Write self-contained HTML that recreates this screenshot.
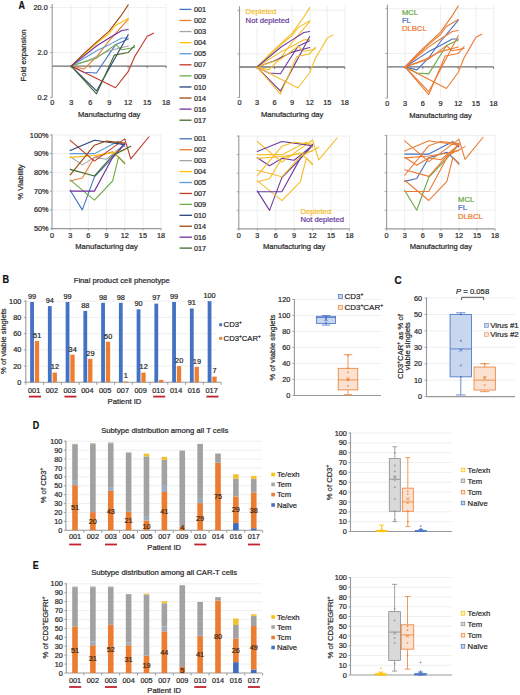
<!DOCTYPE html>
<html><head><meta charset="utf-8"><style>
html,body{margin:0;padding:0;background:#fff;}
svg{display:block;font-family:"Liberation Sans",sans-serif;}
text{stroke:currentColor;stroke-width:0.22px;}
</style></head><body>
<svg width="520" height="695" viewBox="0 0 520 695">
<rect x="0" y="0" width="520" height="695" fill="#ffffff"/>
<text transform="translate(18.4 9.04) scale(0.86 1)" font-size="10.4" text-anchor="start" fill="#111" color="#111" font-weight="bold">A</text>
<line x1="71.19" y1="4" x2="71.19" y2="97.5" stroke="#ebebeb" stroke-width="0.8"/>
<line x1="90.18" y1="4" x2="90.18" y2="97.5" stroke="#ebebeb" stroke-width="0.8"/>
<line x1="109.17" y1="4" x2="109.17" y2="97.5" stroke="#ebebeb" stroke-width="0.8"/>
<line x1="128.16" y1="4" x2="128.16" y2="97.5" stroke="#ebebeb" stroke-width="0.8"/>
<line x1="147.15" y1="4" x2="147.15" y2="97.5" stroke="#ebebeb" stroke-width="0.8"/>
<line x1="166.14" y1="4" x2="166.14" y2="97.5" stroke="#ebebeb" stroke-width="0.8"/>
<line x1="52.2" y1="7.6" x2="166.14" y2="7.6" stroke="#ebebeb" stroke-width="0.8"/>
<line x1="52.2" y1="52.55" x2="166.14" y2="52.55" stroke="#ebebeb" stroke-width="0.8"/>
<line x1="52.2" y1="4" x2="52.2" y2="97.5" stroke="#999999" stroke-width="1.1"/>
<line x1="50.2" y1="7.6" x2="52.2" y2="7.6" stroke="#999999" stroke-width="0.9"/>
<line x1="50.2" y1="52.55" x2="52.2" y2="52.55" stroke="#999999" stroke-width="0.9"/>
<line x1="50.2" y1="97.5" x2="52.2" y2="97.5" stroke="#999999" stroke-width="0.9"/>
<line x1="52.2" y1="66.08" x2="166.14" y2="66.08" stroke="#707070" stroke-width="1.3"/>
<line x1="71.19" y1="66.08" x2="71.19" y2="68.08" stroke="#707070" stroke-width="0.9"/>
<line x1="90.18" y1="66.08" x2="90.18" y2="68.08" stroke="#707070" stroke-width="0.9"/>
<line x1="109.17" y1="66.08" x2="109.17" y2="68.08" stroke="#707070" stroke-width="0.9"/>
<line x1="128.16" y1="66.08" x2="128.16" y2="68.08" stroke="#707070" stroke-width="0.9"/>
<line x1="147.15" y1="66.08" x2="147.15" y2="68.08" stroke="#707070" stroke-width="0.9"/>
<line x1="166.14" y1="66.08" x2="166.14" y2="68.08" stroke="#707070" stroke-width="0.9"/>
<polyline points="71.19,66.08 83.85,72.22 96.51,73.04 115.5,44.63 128.16,39.02" fill="none" stroke="#4472C4" stroke-width="1.1" stroke-linejoin="round" stroke-linecap="round"/>
<polyline points="71.19,66.08 83.85,69.03 96.51,56.91 109.17,40.54 128.16,19.27" fill="none" stroke="#ED7D31" stroke-width="1.1" stroke-linejoin="round" stroke-linecap="round"/>
<polyline points="71.19,66.08 90.18,59.51 109.17,50.69 128.16,45.98" fill="none" stroke="#A5A5A5" stroke-width="1.1" stroke-linejoin="round" stroke-linecap="round"/>
<polyline points="71.19,66.08 83.85,54.61 96.51,43.37 109.17,33.53 115.5,25.49 128.16,18.4" fill="none" stroke="#FFC000" stroke-width="1.1" stroke-linejoin="round" stroke-linecap="round"/>
<polyline points="71.19,66.08 96.51,50.69 109.17,44.63 121.83,38.07 128.16,38.07" fill="none" stroke="#5B9BD5" stroke-width="1.1" stroke-linejoin="round" stroke-linecap="round"/>
<polyline points="71.19,66.08 115.5,87.72 128.16,71.7 134.49,56.91 140.82,46.69 147.15,36.29 153.48,33.16" fill="none" stroke="#C0392B" stroke-width="1.1" stroke-linejoin="round" stroke-linecap="round"/>
<polyline points="71.19,66.08 96.51,58.17 115.5,44.63 121.83,49.82 134.49,47.43" fill="none" stroke="#70AD47" stroke-width="1.1" stroke-linejoin="round" stroke-linecap="round"/>
<polyline points="71.19,66.08 96.51,90.93 128.16,34.66" fill="none" stroke="#264478" stroke-width="1.1" stroke-linejoin="round" stroke-linecap="round"/>
<polyline points="71.19,66.08 83.85,53.55 96.51,42.19 109.17,31.1 121.83,14.56 128.16,4.87" fill="none" stroke="#9E480E" stroke-width="1.1" stroke-linejoin="round" stroke-linecap="round"/>
<polyline points="71.19,66.08 96.51,45.98 109.17,38.07 121.83,30.46 128.16,29.54" fill="none" stroke="#7030A0" stroke-width="1.1" stroke-linejoin="round" stroke-linecap="round"/>
<polyline points="71.19,66.08 96.51,93.94 114.23,55.16 128.16,52.55 134.49,45.64" fill="none" stroke="#43682B" stroke-width="1.1" stroke-linejoin="round" stroke-linecap="round"/>
<text x="47.7" y="10.23" font-size="7.3" text-anchor="end" fill="#2a2a2a" color="#2a2a2a">20.0</text>
<text x="47.7" y="55.18" font-size="7.3" text-anchor="end" fill="#2a2a2a" color="#2a2a2a">2.0</text>
<text x="47.7" y="100.13" font-size="7.3" text-anchor="end" fill="#2a2a2a" color="#2a2a2a">0.2</text>
<text x="52.2" y="105.43" font-size="7.3" text-anchor="middle" fill="#2a2a2a" color="#2a2a2a">0</text>
<text x="71.19" y="105.43" font-size="7.3" text-anchor="middle" fill="#2a2a2a" color="#2a2a2a">3</text>
<text x="90.18" y="105.43" font-size="7.3" text-anchor="middle" fill="#2a2a2a" color="#2a2a2a">6</text>
<text x="109.17" y="105.43" font-size="7.3" text-anchor="middle" fill="#2a2a2a" color="#2a2a2a">9</text>
<text x="128.16" y="105.43" font-size="7.3" text-anchor="middle" fill="#2a2a2a" color="#2a2a2a">12</text>
<text x="147.15" y="105.43" font-size="7.3" text-anchor="middle" fill="#2a2a2a" color="#2a2a2a">15</text>
<text x="166.14" y="105.43" font-size="7.3" text-anchor="middle" fill="#2a2a2a" color="#2a2a2a">18</text>
<text x="109.17" y="116.84" font-size="7.6" text-anchor="middle" fill="#2a2a2a" color="#2a2a2a">Manufacturing day</text>
<text x="23" y="58.27" font-size="7.7" text-anchor="middle" fill="#2a2a2a" color="#2a2a2a" transform="rotate(-90 23 55.5)">Fold expansion</text>
<line x1="179.5" y1="9.4" x2="191.5" y2="9.4" stroke="#4472C4" stroke-width="1.3"/>
<text x="194" y="12.03" font-size="7.3" text-anchor="start" fill="#2a2a2a" color="#2a2a2a">001</text>
<line x1="179.5" y1="20.48" x2="191.5" y2="20.48" stroke="#ED7D31" stroke-width="1.3"/>
<text x="194" y="23.11" font-size="7.3" text-anchor="start" fill="#2a2a2a" color="#2a2a2a">002</text>
<line x1="179.5" y1="31.56" x2="191.5" y2="31.56" stroke="#A5A5A5" stroke-width="1.3"/>
<text x="194" y="34.19" font-size="7.3" text-anchor="start" fill="#2a2a2a" color="#2a2a2a">003</text>
<line x1="179.5" y1="42.64" x2="191.5" y2="42.64" stroke="#FFC000" stroke-width="1.3"/>
<text x="194" y="45.27" font-size="7.3" text-anchor="start" fill="#2a2a2a" color="#2a2a2a">004</text>
<line x1="179.5" y1="53.72" x2="191.5" y2="53.72" stroke="#5B9BD5" stroke-width="1.3"/>
<text x="194" y="56.35" font-size="7.3" text-anchor="start" fill="#2a2a2a" color="#2a2a2a">005</text>
<line x1="179.5" y1="64.8" x2="191.5" y2="64.8" stroke="#C0392B" stroke-width="1.3"/>
<text x="194" y="67.43" font-size="7.3" text-anchor="start" fill="#2a2a2a" color="#2a2a2a">007</text>
<line x1="179.5" y1="75.88" x2="191.5" y2="75.88" stroke="#70AD47" stroke-width="1.3"/>
<text x="194" y="78.51" font-size="7.3" text-anchor="start" fill="#2a2a2a" color="#2a2a2a">009</text>
<line x1="179.5" y1="86.96" x2="191.5" y2="86.96" stroke="#264478" stroke-width="1.3"/>
<text x="194" y="89.59" font-size="7.3" text-anchor="start" fill="#2a2a2a" color="#2a2a2a">010</text>
<line x1="179.5" y1="98.04" x2="191.5" y2="98.04" stroke="#9E480E" stroke-width="1.3"/>
<text x="194" y="100.67" font-size="7.3" text-anchor="start" fill="#2a2a2a" color="#2a2a2a">014</text>
<line x1="179.5" y1="109.12" x2="191.5" y2="109.12" stroke="#7030A0" stroke-width="1.3"/>
<text x="194" y="111.75" font-size="7.3" text-anchor="start" fill="#2a2a2a" color="#2a2a2a">016</text>
<line x1="179.5" y1="120.2" x2="191.5" y2="120.2" stroke="#43682B" stroke-width="1.3"/>
<text x="194" y="122.83" font-size="7.3" text-anchor="start" fill="#2a2a2a" color="#2a2a2a">017</text>
<line x1="257.05" y1="27" x2="257.05" y2="97.5" stroke="#ebebeb" stroke-width="0.8"/>
<line x1="274.6" y1="27" x2="274.6" y2="97.5" stroke="#ebebeb" stroke-width="0.8"/>
<line x1="292.15" y1="6.3" x2="292.15" y2="97.5" stroke="#ebebeb" stroke-width="0.8"/>
<line x1="309.7" y1="6.3" x2="309.7" y2="97.5" stroke="#ebebeb" stroke-width="0.8"/>
<line x1="327.25" y1="6.3" x2="327.25" y2="97.5" stroke="#ebebeb" stroke-width="0.8"/>
<line x1="344.8" y1="6.3" x2="344.8" y2="97.5" stroke="#ebebeb" stroke-width="0.8"/>
<line x1="239.5" y1="10.3" x2="344.8" y2="10.3" stroke="#ebebeb" stroke-width="0.8"/>
<line x1="239.5" y1="53.9" x2="344.8" y2="53.9" stroke="#ebebeb" stroke-width="0.8"/>
<line x1="239.5" y1="6.3" x2="239.5" y2="97.5" stroke="#999999" stroke-width="1.1"/>
<line x1="237.5" y1="10.3" x2="239.5" y2="10.3" stroke="#999999" stroke-width="0.9"/>
<line x1="237.5" y1="53.9" x2="239.5" y2="53.9" stroke="#999999" stroke-width="0.9"/>
<line x1="237.5" y1="97.5" x2="239.5" y2="97.5" stroke="#999999" stroke-width="0.9"/>
<line x1="239.5" y1="67.02" x2="344.8" y2="67.02" stroke="#707070" stroke-width="1.3"/>
<line x1="257.05" y1="67.02" x2="257.05" y2="69.02" stroke="#707070" stroke-width="0.9"/>
<line x1="274.6" y1="67.02" x2="274.6" y2="69.02" stroke="#707070" stroke-width="0.9"/>
<line x1="292.15" y1="67.02" x2="292.15" y2="69.02" stroke="#707070" stroke-width="0.9"/>
<line x1="309.7" y1="67.02" x2="309.7" y2="69.02" stroke="#707070" stroke-width="0.9"/>
<line x1="327.25" y1="67.02" x2="327.25" y2="69.02" stroke="#707070" stroke-width="0.9"/>
<line x1="344.8" y1="67.02" x2="344.8" y2="69.02" stroke="#707070" stroke-width="0.9"/>
<polyline points="257.05,67.02 268.75,72.98 280.45,73.78 298,46.22 309.7,40.78" fill="none" stroke="#6A3CA0" stroke-width="1.1" stroke-linejoin="round" stroke-linecap="round"/>
<polyline points="257.05,67.02 268.75,69.88 280.45,58.13 292.15,42.25 309.7,21.62" fill="none" stroke="#F5BE2A" stroke-width="1.1" stroke-linejoin="round" stroke-linecap="round"/>
<polyline points="257.05,67.02 274.6,60.65 292.15,52.1 309.7,47.53" fill="none" stroke="#6A3CA0" stroke-width="1.1" stroke-linejoin="round" stroke-linecap="round"/>
<polyline points="257.05,67.02 268.75,55.9 280.45,45 292.15,35.45 298,27.65 309.7,20.78" fill="none" stroke="#F5BE2A" stroke-width="1.1" stroke-linejoin="round" stroke-linecap="round"/>
<polyline points="257.05,67.02 280.45,52.1 292.15,46.22 303.85,39.85 309.7,39.85" fill="none" stroke="#F5BE2A" stroke-width="1.1" stroke-linejoin="round" stroke-linecap="round"/>
<polyline points="257.05,67.02 298,88.02 309.7,72.47 315.55,58.13 321.4,48.22 327.25,38.13 333.1,35.09" fill="none" stroke="#F5BE2A" stroke-width="1.1" stroke-linejoin="round" stroke-linecap="round"/>
<polyline points="257.05,67.02 280.45,59.35 298,46.22 303.85,51.25 315.55,48.93" fill="none" stroke="#F5BE2A" stroke-width="1.1" stroke-linejoin="round" stroke-linecap="round"/>
<polyline points="257.05,67.02 280.45,91.13 309.7,36.55" fill="none" stroke="#6A3CA0" stroke-width="1.1" stroke-linejoin="round" stroke-linecap="round"/>
<polyline points="257.05,67.02 268.75,54.87 280.45,43.85 292.15,33.1 303.85,17.05 309.7,7.65" fill="none" stroke="#F5BE2A" stroke-width="1.1" stroke-linejoin="round" stroke-linecap="round"/>
<polyline points="257.05,67.02 280.45,47.53 292.15,39.85 303.85,32.48 309.7,31.58" fill="none" stroke="#6A3CA0" stroke-width="1.1" stroke-linejoin="round" stroke-linecap="round"/>
<polyline points="257.05,67.02 280.45,94.05 296.83,56.43 309.7,53.9 315.55,47.19" fill="none" stroke="#F5BE2A" stroke-width="1.1" stroke-linejoin="round" stroke-linecap="round"/>
<text x="239.5" y="105.43" font-size="7.3" text-anchor="middle" fill="#2a2a2a" color="#2a2a2a">0</text>
<text x="257.05" y="105.43" font-size="7.3" text-anchor="middle" fill="#2a2a2a" color="#2a2a2a">3</text>
<text x="274.6" y="105.43" font-size="7.3" text-anchor="middle" fill="#2a2a2a" color="#2a2a2a">6</text>
<text x="292.15" y="105.43" font-size="7.3" text-anchor="middle" fill="#2a2a2a" color="#2a2a2a">9</text>
<text x="309.7" y="105.43" font-size="7.3" text-anchor="middle" fill="#2a2a2a" color="#2a2a2a">12</text>
<text x="327.25" y="105.43" font-size="7.3" text-anchor="middle" fill="#2a2a2a" color="#2a2a2a">15</text>
<text x="344.8" y="105.43" font-size="7.3" text-anchor="middle" fill="#2a2a2a" color="#2a2a2a">18</text>
<text x="292.15" y="116.84" font-size="7.6" text-anchor="middle" fill="#2a2a2a" color="#2a2a2a">Manufacturing day</text>
<text x="245.6" y="14.17" font-size="7.7" text-anchor="start" fill="#F5BE2A" color="#F5BE2A">Depleted</text>
<text x="245.6" y="22.87" font-size="7.7" text-anchor="start" fill="#6A3CA0" color="#6A3CA0">Not depleted</text>
<line x1="405.1" y1="33" x2="405.1" y2="98.2" stroke="#ebebeb" stroke-width="0.8"/>
<line x1="422.8" y1="33" x2="422.8" y2="98.2" stroke="#ebebeb" stroke-width="0.8"/>
<line x1="440.5" y1="4.8" x2="440.5" y2="98.2" stroke="#ebebeb" stroke-width="0.8"/>
<line x1="458.2" y1="4.8" x2="458.2" y2="98.2" stroke="#ebebeb" stroke-width="0.8"/>
<line x1="475.9" y1="4.8" x2="475.9" y2="98.2" stroke="#ebebeb" stroke-width="0.8"/>
<line x1="493.6" y1="4.8" x2="493.6" y2="98.2" stroke="#ebebeb" stroke-width="0.8"/>
<line x1="387.4" y1="8.7" x2="493.6" y2="8.7" stroke="#ebebeb" stroke-width="0.8"/>
<line x1="387.4" y1="53.45" x2="493.6" y2="53.45" stroke="#ebebeb" stroke-width="0.8"/>
<line x1="387.4" y1="4.8" x2="387.4" y2="98.2" stroke="#999999" stroke-width="1.1"/>
<line x1="385.4" y1="8.7" x2="387.4" y2="8.7" stroke="#999999" stroke-width="0.9"/>
<line x1="385.4" y1="53.45" x2="387.4" y2="53.45" stroke="#999999" stroke-width="0.9"/>
<line x1="385.4" y1="98.2" x2="387.4" y2="98.2" stroke="#999999" stroke-width="0.9"/>
<line x1="387.4" y1="66.92" x2="493.6" y2="66.92" stroke="#707070" stroke-width="1.3"/>
<line x1="405.1" y1="66.92" x2="405.1" y2="68.92" stroke="#707070" stroke-width="0.9"/>
<line x1="422.8" y1="66.92" x2="422.8" y2="68.92" stroke="#707070" stroke-width="0.9"/>
<line x1="440.5" y1="66.92" x2="440.5" y2="68.92" stroke="#707070" stroke-width="0.9"/>
<line x1="458.2" y1="66.92" x2="458.2" y2="68.92" stroke="#707070" stroke-width="0.9"/>
<line x1="475.9" y1="66.92" x2="475.9" y2="68.92" stroke="#707070" stroke-width="0.9"/>
<line x1="493.6" y1="66.92" x2="493.6" y2="68.92" stroke="#707070" stroke-width="0.9"/>
<polyline points="405.1,66.92 416.9,73.04 428.7,73.85 446.4,45.57 458.2,39.98" fill="none" stroke="#6AAA44" stroke-width="1.1" stroke-linejoin="round" stroke-linecap="round"/>
<polyline points="405.1,66.92 416.9,69.85 428.7,57.79 440.5,41.49 458.2,20.32" fill="none" stroke="#4670C0" stroke-width="1.1" stroke-linejoin="round" stroke-linecap="round"/>
<polyline points="405.1,66.92 422.8,60.38 440.5,51.6 458.2,46.91" fill="none" stroke="#EB7B33" stroke-width="1.1" stroke-linejoin="round" stroke-linecap="round"/>
<polyline points="405.1,66.92 416.9,55.5 428.7,44.32 440.5,34.51 446.4,26.51 458.2,19.45" fill="none" stroke="#EB7B33" stroke-width="1.1" stroke-linejoin="round" stroke-linecap="round"/>
<polyline points="405.1,66.92 428.7,51.6 440.5,45.57 452.3,39.03 458.2,39.03" fill="none" stroke="#4670C0" stroke-width="1.1" stroke-linejoin="round" stroke-linecap="round"/>
<polyline points="405.1,66.92 446.4,88.47 458.2,72.51 464.1,57.79 470,47.62 475.9,37.26 481.8,34.15" fill="none" stroke="#EB7B33" stroke-width="1.1" stroke-linejoin="round" stroke-linecap="round"/>
<polyline points="405.1,66.92 428.7,59.04 446.4,45.57 452.3,50.73 464.1,48.35" fill="none" stroke="#EB7B33" stroke-width="1.1" stroke-linejoin="round" stroke-linecap="round"/>
<polyline points="405.1,66.92 428.7,91.66 458.2,35.64" fill="none" stroke="#EB7B33" stroke-width="1.1" stroke-linejoin="round" stroke-linecap="round"/>
<polyline points="405.1,66.92 416.9,54.45 428.7,43.14 440.5,32.1 452.3,15.63 458.2,5.98" fill="none" stroke="#EB7B33" stroke-width="1.1" stroke-linejoin="round" stroke-linecap="round"/>
<polyline points="405.1,66.92 428.7,46.91 440.5,39.03 452.3,31.46 458.2,30.54" fill="none" stroke="#EB7B33" stroke-width="1.1" stroke-linejoin="round" stroke-linecap="round"/>
<polyline points="405.1,66.92 428.7,94.66 445.22,56.05 458.2,53.45 464.1,46.57" fill="none" stroke="#EB7B33" stroke-width="1.1" stroke-linejoin="round" stroke-linecap="round"/>
<text x="387.4" y="106.13" font-size="7.3" text-anchor="middle" fill="#2a2a2a" color="#2a2a2a">0</text>
<text x="405.1" y="106.13" font-size="7.3" text-anchor="middle" fill="#2a2a2a" color="#2a2a2a">3</text>
<text x="422.8" y="106.13" font-size="7.3" text-anchor="middle" fill="#2a2a2a" color="#2a2a2a">6</text>
<text x="440.5" y="106.13" font-size="7.3" text-anchor="middle" fill="#2a2a2a" color="#2a2a2a">9</text>
<text x="458.2" y="106.13" font-size="7.3" text-anchor="middle" fill="#2a2a2a" color="#2a2a2a">12</text>
<text x="475.9" y="106.13" font-size="7.3" text-anchor="middle" fill="#2a2a2a" color="#2a2a2a">15</text>
<text x="493.6" y="106.13" font-size="7.3" text-anchor="middle" fill="#2a2a2a" color="#2a2a2a">18</text>
<text x="440.5" y="117.54" font-size="7.6" text-anchor="middle" fill="#2a2a2a" color="#2a2a2a">Manufacturing day</text>
<text x="401.9" y="14.67" font-size="7.7" text-anchor="start" fill="#6AAA44" color="#6AAA44">MCL</text>
<text x="401.9" y="23.07" font-size="7.7" text-anchor="start" fill="#4670C0" color="#4670C0">FL</text>
<text x="401.9" y="31.37" font-size="7.7" text-anchor="start" fill="#EB7B33" color="#EB7B33">DLBCL</text>
<line x1="70.18" y1="134.9" x2="70.18" y2="228.6" stroke="#ebebeb" stroke-width="0.8"/>
<line x1="88.36" y1="134.9" x2="88.36" y2="228.6" stroke="#ebebeb" stroke-width="0.8"/>
<line x1="106.54" y1="134.9" x2="106.54" y2="228.6" stroke="#ebebeb" stroke-width="0.8"/>
<line x1="124.72" y1="134.9" x2="124.72" y2="228.6" stroke="#ebebeb" stroke-width="0.8"/>
<line x1="142.9" y1="134.9" x2="142.9" y2="228.6" stroke="#ebebeb" stroke-width="0.8"/>
<line x1="161.08" y1="134.9" x2="161.08" y2="228.6" stroke="#ebebeb" stroke-width="0.8"/>
<line x1="52" y1="209.86" x2="161.08" y2="209.86" stroke="#ebebeb" stroke-width="0.8"/>
<line x1="52" y1="191.12" x2="161.08" y2="191.12" stroke="#ebebeb" stroke-width="0.8"/>
<line x1="52" y1="172.38" x2="161.08" y2="172.38" stroke="#ebebeb" stroke-width="0.8"/>
<line x1="52" y1="153.64" x2="161.08" y2="153.64" stroke="#ebebeb" stroke-width="0.8"/>
<line x1="52" y1="134.9" x2="161.08" y2="134.9" stroke="#ebebeb" stroke-width="0.8"/>
<line x1="52" y1="134.4" x2="52" y2="228.6" stroke="#999999" stroke-width="1.1"/>
<line x1="52" y1="228.6" x2="161.08" y2="228.6" stroke="#999999" stroke-width="1.1"/>
<line x1="50" y1="228.6" x2="52" y2="228.6" stroke="#999999" stroke-width="0.9"/>
<line x1="50" y1="209.86" x2="52" y2="209.86" stroke="#999999" stroke-width="0.9"/>
<line x1="50" y1="191.12" x2="52" y2="191.12" stroke="#999999" stroke-width="0.9"/>
<line x1="50" y1="172.38" x2="52" y2="172.38" stroke="#999999" stroke-width="0.9"/>
<line x1="50" y1="153.64" x2="52" y2="153.64" stroke="#999999" stroke-width="0.9"/>
<line x1="50" y1="134.9" x2="52" y2="134.9" stroke="#999999" stroke-width="0.9"/>
<line x1="52" y1="228.6" x2="52" y2="230.4" stroke="#999999" stroke-width="0.9"/>
<line x1="70.18" y1="228.6" x2="70.18" y2="230.4" stroke="#999999" stroke-width="0.9"/>
<line x1="88.36" y1="228.6" x2="88.36" y2="230.4" stroke="#999999" stroke-width="0.9"/>
<line x1="106.54" y1="228.6" x2="106.54" y2="230.4" stroke="#999999" stroke-width="0.9"/>
<line x1="124.72" y1="228.6" x2="124.72" y2="230.4" stroke="#999999" stroke-width="0.9"/>
<line x1="142.9" y1="228.6" x2="142.9" y2="230.4" stroke="#999999" stroke-width="0.9"/>
<line x1="161.08" y1="228.6" x2="161.08" y2="230.4" stroke="#999999" stroke-width="0.9"/>
<polyline points="70.18,190.18 82.3,209.86 94.42,176.88 112.6,157.95 124.72,144.27" fill="none" stroke="#4472C4" stroke-width="1.1" stroke-linejoin="round" stroke-linecap="round"/>
<polyline points="70.18,181 82.3,178 94.42,157.39 112.6,151.77 124.72,163.01" fill="none" stroke="#ED7D31" stroke-width="1.1" stroke-linejoin="round" stroke-linecap="round"/>
<polyline points="70.18,156.83 82.3,164.88 94.42,157.39 106.54,159.26 124.72,144.27" fill="none" stroke="#A5A5A5" stroke-width="1.1" stroke-linejoin="round" stroke-linecap="round"/>
<polyline points="70.18,157.39 94.42,155.51 112.6,152.7 124.72,149.89" fill="none" stroke="#FFC000" stroke-width="1.1" stroke-linejoin="round" stroke-linecap="round"/>
<polyline points="70.18,153.64 94.42,153.64 118.66,141.08 124.72,146.52" fill="none" stroke="#5B9BD5" stroke-width="1.1" stroke-linejoin="round" stroke-linecap="round"/>
<polyline points="70.18,140.33 94.42,161.14 124.72,138.84 130.78,158.89 148.96,136.77" fill="none" stroke="#C0392B" stroke-width="1.1" stroke-linejoin="round" stroke-linecap="round"/>
<polyline points="70.18,179.88 94.42,200.12 112.6,181 118.66,156.83 124.72,163.95" fill="none" stroke="#70AD47" stroke-width="1.1" stroke-linejoin="round" stroke-linecap="round"/>
<polyline points="70.18,150.45 94.42,140.33 106.54,142.02 124.72,144.64" fill="none" stroke="#264478" stroke-width="1.1" stroke-linejoin="round" stroke-linecap="round"/>
<polyline points="70.18,174.82 94.42,145.21 106.54,141.08 124.72,143.15" fill="none" stroke="#9E480E" stroke-width="1.1" stroke-linejoin="round" stroke-linecap="round"/>
<polyline points="70.18,191.12 94.42,191.12 112.6,157.39 124.72,143.33" fill="none" stroke="#7030A0" stroke-width="1.1" stroke-linejoin="round" stroke-linecap="round"/>
<polyline points="70.18,169.38 94.42,175.94 112.6,155.51 130.78,146.14" fill="none" stroke="#43682B" stroke-width="1.1" stroke-linejoin="round" stroke-linecap="round"/>
<text x="48.5" y="231.23" font-size="7.3" text-anchor="end" fill="#2a2a2a" color="#2a2a2a">50%</text>
<text x="48.5" y="212.49" font-size="7.3" text-anchor="end" fill="#2a2a2a" color="#2a2a2a">60%</text>
<text x="48.5" y="193.75" font-size="7.3" text-anchor="end" fill="#2a2a2a" color="#2a2a2a">70%</text>
<text x="48.5" y="175.01" font-size="7.3" text-anchor="end" fill="#2a2a2a" color="#2a2a2a">80%</text>
<text x="48.5" y="156.27" font-size="7.3" text-anchor="end" fill="#2a2a2a" color="#2a2a2a">90%</text>
<text x="48.5" y="137.53" font-size="7.3" text-anchor="end" fill="#2a2a2a" color="#2a2a2a">100%</text>
<text x="52" y="237.73" font-size="7.3" text-anchor="middle" fill="#2a2a2a" color="#2a2a2a">0</text>
<text x="70.18" y="237.73" font-size="7.3" text-anchor="middle" fill="#2a2a2a" color="#2a2a2a">3</text>
<text x="88.36" y="237.73" font-size="7.3" text-anchor="middle" fill="#2a2a2a" color="#2a2a2a">6</text>
<text x="106.54" y="237.73" font-size="7.3" text-anchor="middle" fill="#2a2a2a" color="#2a2a2a">9</text>
<text x="124.72" y="237.73" font-size="7.3" text-anchor="middle" fill="#2a2a2a" color="#2a2a2a">12</text>
<text x="142.9" y="237.73" font-size="7.3" text-anchor="middle" fill="#2a2a2a" color="#2a2a2a">15</text>
<text x="161.08" y="237.73" font-size="7.3" text-anchor="middle" fill="#2a2a2a" color="#2a2a2a">18</text>
<text x="106.54" y="249.14" font-size="7.6" text-anchor="middle" fill="#2a2a2a" color="#2a2a2a">Manufacturing day</text>
<text x="20.3" y="184.77" font-size="7.7" text-anchor="middle" fill="#2a2a2a" color="#2a2a2a" transform="rotate(-90 20.3 182)">% Viability</text>
<line x1="179.5" y1="138.8" x2="192" y2="138.8" stroke="#4472C4" stroke-width="1.3"/>
<text x="194" y="141.43" font-size="7.3" text-anchor="start" fill="#2a2a2a" color="#2a2a2a">001</text>
<line x1="179.5" y1="149.73" x2="192" y2="149.73" stroke="#ED7D31" stroke-width="1.3"/>
<text x="194" y="152.36" font-size="7.3" text-anchor="start" fill="#2a2a2a" color="#2a2a2a">002</text>
<line x1="179.5" y1="160.66" x2="192" y2="160.66" stroke="#A5A5A5" stroke-width="1.3"/>
<text x="194" y="163.29" font-size="7.3" text-anchor="start" fill="#2a2a2a" color="#2a2a2a">003</text>
<line x1="179.5" y1="171.59" x2="192" y2="171.59" stroke="#FFC000" stroke-width="1.3"/>
<text x="194" y="174.22" font-size="7.3" text-anchor="start" fill="#2a2a2a" color="#2a2a2a">004</text>
<line x1="179.5" y1="182.52" x2="192" y2="182.52" stroke="#5B9BD5" stroke-width="1.3"/>
<text x="194" y="185.15" font-size="7.3" text-anchor="start" fill="#2a2a2a" color="#2a2a2a">005</text>
<line x1="179.5" y1="193.45" x2="192" y2="193.45" stroke="#C0392B" stroke-width="1.3"/>
<text x="194" y="196.08" font-size="7.3" text-anchor="start" fill="#2a2a2a" color="#2a2a2a">007</text>
<line x1="179.5" y1="204.38" x2="192" y2="204.38" stroke="#70AD47" stroke-width="1.3"/>
<text x="194" y="207.01" font-size="7.3" text-anchor="start" fill="#2a2a2a" color="#2a2a2a">009</text>
<line x1="179.5" y1="215.31" x2="192" y2="215.31" stroke="#264478" stroke-width="1.3"/>
<text x="194" y="217.94" font-size="7.3" text-anchor="start" fill="#2a2a2a" color="#2a2a2a">010</text>
<line x1="179.5" y1="226.24" x2="192" y2="226.24" stroke="#9E480E" stroke-width="1.3"/>
<text x="194" y="228.87" font-size="7.3" text-anchor="start" fill="#2a2a2a" color="#2a2a2a">014</text>
<line x1="179.5" y1="237.17" x2="192" y2="237.17" stroke="#7030A0" stroke-width="1.3"/>
<text x="194" y="239.8" font-size="7.3" text-anchor="start" fill="#2a2a2a" color="#2a2a2a">016</text>
<line x1="179.5" y1="248.1" x2="192" y2="248.1" stroke="#43682B" stroke-width="1.3"/>
<text x="194" y="250.73" font-size="7.3" text-anchor="start" fill="#2a2a2a" color="#2a2a2a">017</text>
<line x1="257.25" y1="136.1" x2="257.25" y2="228.9" stroke="#ebebeb" stroke-width="0.8"/>
<line x1="275.7" y1="136.1" x2="275.7" y2="228.9" stroke="#ebebeb" stroke-width="0.8"/>
<line x1="294.15" y1="136.1" x2="294.15" y2="228.9" stroke="#ebebeb" stroke-width="0.8"/>
<line x1="312.6" y1="136.1" x2="312.6" y2="228.9" stroke="#ebebeb" stroke-width="0.8"/>
<line x1="331.05" y1="136.1" x2="331.05" y2="228.9" stroke="#ebebeb" stroke-width="0.8"/>
<line x1="349.5" y1="136.1" x2="349.5" y2="228.9" stroke="#ebebeb" stroke-width="0.8"/>
<line x1="238.8" y1="210.34" x2="349.5" y2="210.34" stroke="#ebebeb" stroke-width="0.8"/>
<line x1="238.8" y1="191.78" x2="349.5" y2="191.78" stroke="#ebebeb" stroke-width="0.8"/>
<line x1="238.8" y1="173.22" x2="349.5" y2="173.22" stroke="#ebebeb" stroke-width="0.8"/>
<line x1="238.8" y1="154.66" x2="349.5" y2="154.66" stroke="#ebebeb" stroke-width="0.8"/>
<line x1="238.8" y1="136.1" x2="349.5" y2="136.1" stroke="#ebebeb" stroke-width="0.8"/>
<line x1="238.8" y1="135.6" x2="238.8" y2="228.9" stroke="#999999" stroke-width="1.1"/>
<line x1="238.8" y1="228.9" x2="349.5" y2="228.9" stroke="#999999" stroke-width="1.1"/>
<line x1="236.8" y1="228.9" x2="238.8" y2="228.9" stroke="#999999" stroke-width="0.9"/>
<line x1="236.8" y1="210.34" x2="238.8" y2="210.34" stroke="#999999" stroke-width="0.9"/>
<line x1="236.8" y1="191.78" x2="238.8" y2="191.78" stroke="#999999" stroke-width="0.9"/>
<line x1="236.8" y1="173.22" x2="238.8" y2="173.22" stroke="#999999" stroke-width="0.9"/>
<line x1="236.8" y1="154.66" x2="238.8" y2="154.66" stroke="#999999" stroke-width="0.9"/>
<line x1="236.8" y1="136.1" x2="238.8" y2="136.1" stroke="#999999" stroke-width="0.9"/>
<line x1="238.8" y1="228.9" x2="238.8" y2="230.7" stroke="#999999" stroke-width="0.9"/>
<line x1="257.25" y1="228.9" x2="257.25" y2="230.7" stroke="#999999" stroke-width="0.9"/>
<line x1="275.7" y1="228.9" x2="275.7" y2="230.7" stroke="#999999" stroke-width="0.9"/>
<line x1="294.15" y1="228.9" x2="294.15" y2="230.7" stroke="#999999" stroke-width="0.9"/>
<line x1="312.6" y1="228.9" x2="312.6" y2="230.7" stroke="#999999" stroke-width="0.9"/>
<line x1="331.05" y1="228.9" x2="331.05" y2="230.7" stroke="#999999" stroke-width="0.9"/>
<line x1="349.5" y1="228.9" x2="349.5" y2="230.7" stroke="#999999" stroke-width="0.9"/>
<polyline points="257.25,190.85 269.55,210.34 281.85,177.67 300.3,158.93 312.6,145.38" fill="none" stroke="#6A3CA0" stroke-width="1.1" stroke-linejoin="round" stroke-linecap="round"/>
<polyline points="257.25,181.76 269.55,178.79 281.85,158.37 300.3,152.8 312.6,163.94" fill="none" stroke="#F5BE2A" stroke-width="1.1" stroke-linejoin="round" stroke-linecap="round"/>
<polyline points="257.25,157.82 269.55,165.8 281.85,158.37 294.15,160.23 312.6,145.38" fill="none" stroke="#6A3CA0" stroke-width="1.1" stroke-linejoin="round" stroke-linecap="round"/>
<polyline points="257.25,158.37 281.85,156.52 300.3,153.73 312.6,150.95" fill="none" stroke="#F5BE2A" stroke-width="1.1" stroke-linejoin="round" stroke-linecap="round"/>
<polyline points="257.25,154.66 281.85,154.66 306.45,142.22 312.6,147.61" fill="none" stroke="#F5BE2A" stroke-width="1.1" stroke-linejoin="round" stroke-linecap="round"/>
<polyline points="257.25,141.48 281.85,162.08 312.6,140 318.75,159.86 337.2,137.96" fill="none" stroke="#F5BE2A" stroke-width="1.1" stroke-linejoin="round" stroke-linecap="round"/>
<polyline points="257.25,180.64 281.85,200.69 300.3,181.76 306.45,157.82 312.6,164.87" fill="none" stroke="#F5BE2A" stroke-width="1.1" stroke-linejoin="round" stroke-linecap="round"/>
<polyline points="257.25,151.5 281.85,141.48 294.15,143.15 312.6,145.75" fill="none" stroke="#6A3CA0" stroke-width="1.1" stroke-linejoin="round" stroke-linecap="round"/>
<polyline points="257.25,175.63 281.85,146.31 294.15,142.22 312.6,144.27" fill="none" stroke="#F5BE2A" stroke-width="1.1" stroke-linejoin="round" stroke-linecap="round"/>
<polyline points="257.25,191.78 281.85,191.78 300.3,158.37 312.6,144.45" fill="none" stroke="#6A3CA0" stroke-width="1.1" stroke-linejoin="round" stroke-linecap="round"/>
<polyline points="257.25,170.25 281.85,176.75 300.3,156.52 318.75,147.24" fill="none" stroke="#F5BE2A" stroke-width="1.1" stroke-linejoin="round" stroke-linecap="round"/>
<text x="238.8" y="238.03" font-size="7.3" text-anchor="middle" fill="#2a2a2a" color="#2a2a2a">0</text>
<text x="257.25" y="238.03" font-size="7.3" text-anchor="middle" fill="#2a2a2a" color="#2a2a2a">3</text>
<text x="275.7" y="238.03" font-size="7.3" text-anchor="middle" fill="#2a2a2a" color="#2a2a2a">6</text>
<text x="294.15" y="238.03" font-size="7.3" text-anchor="middle" fill="#2a2a2a" color="#2a2a2a">9</text>
<text x="312.6" y="238.03" font-size="7.3" text-anchor="middle" fill="#2a2a2a" color="#2a2a2a">12</text>
<text x="331.05" y="238.03" font-size="7.3" text-anchor="middle" fill="#2a2a2a" color="#2a2a2a">15</text>
<text x="349.5" y="238.03" font-size="7.3" text-anchor="middle" fill="#2a2a2a" color="#2a2a2a">18</text>
<text x="294.15" y="249.44" font-size="7.6" text-anchor="middle" fill="#2a2a2a" color="#2a2a2a">Manufacturing day</text>
<text x="300.4" y="214.27" font-size="7.7" text-anchor="start" fill="#F5BE2A" color="#F5BE2A">Depleted</text>
<text x="300.4" y="222.37" font-size="7.7" text-anchor="start" fill="#6A3CA0" color="#6A3CA0">Not depleted</text>
<line x1="404.69" y1="135.4" x2="404.69" y2="228.9" stroke="#ebebeb" stroke-width="0.8"/>
<line x1="422.78" y1="135.4" x2="422.78" y2="228.9" stroke="#ebebeb" stroke-width="0.8"/>
<line x1="440.87" y1="135.4" x2="440.87" y2="228.9" stroke="#ebebeb" stroke-width="0.8"/>
<line x1="458.96" y1="135.4" x2="458.96" y2="228.9" stroke="#ebebeb" stroke-width="0.8"/>
<line x1="477.05" y1="135.4" x2="477.05" y2="228.9" stroke="#ebebeb" stroke-width="0.8"/>
<line x1="495.14" y1="135.4" x2="495.14" y2="228.9" stroke="#ebebeb" stroke-width="0.8"/>
<line x1="386.6" y1="210.2" x2="495.14" y2="210.2" stroke="#ebebeb" stroke-width="0.8"/>
<line x1="386.6" y1="191.5" x2="495.14" y2="191.5" stroke="#ebebeb" stroke-width="0.8"/>
<line x1="386.6" y1="172.8" x2="495.14" y2="172.8" stroke="#ebebeb" stroke-width="0.8"/>
<line x1="386.6" y1="154.1" x2="495.14" y2="154.1" stroke="#ebebeb" stroke-width="0.8"/>
<line x1="386.6" y1="135.4" x2="495.14" y2="135.4" stroke="#ebebeb" stroke-width="0.8"/>
<line x1="386.6" y1="134.9" x2="386.6" y2="228.9" stroke="#999999" stroke-width="1.1"/>
<line x1="386.6" y1="228.9" x2="495.14" y2="228.9" stroke="#999999" stroke-width="1.1"/>
<line x1="384.6" y1="228.9" x2="386.6" y2="228.9" stroke="#999999" stroke-width="0.9"/>
<line x1="384.6" y1="210.2" x2="386.6" y2="210.2" stroke="#999999" stroke-width="0.9"/>
<line x1="384.6" y1="191.5" x2="386.6" y2="191.5" stroke="#999999" stroke-width="0.9"/>
<line x1="384.6" y1="172.8" x2="386.6" y2="172.8" stroke="#999999" stroke-width="0.9"/>
<line x1="384.6" y1="154.1" x2="386.6" y2="154.1" stroke="#999999" stroke-width="0.9"/>
<line x1="384.6" y1="135.4" x2="386.6" y2="135.4" stroke="#999999" stroke-width="0.9"/>
<line x1="386.6" y1="228.9" x2="386.6" y2="230.7" stroke="#999999" stroke-width="0.9"/>
<line x1="404.69" y1="228.9" x2="404.69" y2="230.7" stroke="#999999" stroke-width="0.9"/>
<line x1="422.78" y1="228.9" x2="422.78" y2="230.7" stroke="#999999" stroke-width="0.9"/>
<line x1="440.87" y1="228.9" x2="440.87" y2="230.7" stroke="#999999" stroke-width="0.9"/>
<line x1="458.96" y1="228.9" x2="458.96" y2="230.7" stroke="#999999" stroke-width="0.9"/>
<line x1="477.05" y1="228.9" x2="477.05" y2="230.7" stroke="#999999" stroke-width="0.9"/>
<line x1="495.14" y1="228.9" x2="495.14" y2="230.7" stroke="#999999" stroke-width="0.9"/>
<polyline points="404.69,190.56 416.75,210.2 428.81,177.29 446.9,158.4 458.96,144.75" fill="none" stroke="#6AAA44" stroke-width="1.1" stroke-linejoin="round" stroke-linecap="round"/>
<polyline points="404.69,181.4 416.75,178.41 428.81,157.84 446.9,152.23 458.96,163.45" fill="none" stroke="#4670C0" stroke-width="1.1" stroke-linejoin="round" stroke-linecap="round"/>
<polyline points="404.69,157.28 416.75,165.32 428.81,157.84 440.87,159.71 458.96,144.75" fill="none" stroke="#EB7B33" stroke-width="1.1" stroke-linejoin="round" stroke-linecap="round"/>
<polyline points="404.69,157.84 428.81,155.97 446.9,153.17 458.96,150.36" fill="none" stroke="#EB7B33" stroke-width="1.1" stroke-linejoin="round" stroke-linecap="round"/>
<polyline points="404.69,154.1 428.81,154.1 452.93,141.57 458.96,146.99" fill="none" stroke="#4670C0" stroke-width="1.1" stroke-linejoin="round" stroke-linecap="round"/>
<polyline points="404.69,140.82 428.81,161.58 458.96,139.33 464.99,159.34 483.08,137.27" fill="none" stroke="#EB7B33" stroke-width="1.1" stroke-linejoin="round" stroke-linecap="round"/>
<polyline points="404.69,180.28 428.81,200.48 446.9,181.4 452.93,157.28 458.96,164.38" fill="none" stroke="#EB7B33" stroke-width="1.1" stroke-linejoin="round" stroke-linecap="round"/>
<polyline points="404.69,150.92 428.81,140.82 440.87,142.51 458.96,145.12" fill="none" stroke="#EB7B33" stroke-width="1.1" stroke-linejoin="round" stroke-linecap="round"/>
<polyline points="404.69,175.23 428.81,145.69 440.87,141.57 458.96,143.63" fill="none" stroke="#EB7B33" stroke-width="1.1" stroke-linejoin="round" stroke-linecap="round"/>
<polyline points="404.69,191.5 428.81,191.5 446.9,157.84 458.96,143.81" fill="none" stroke="#EB7B33" stroke-width="1.1" stroke-linejoin="round" stroke-linecap="round"/>
<polyline points="404.69,169.81 428.81,176.35 446.9,155.97 464.99,146.62" fill="none" stroke="#EB7B33" stroke-width="1.1" stroke-linejoin="round" stroke-linecap="round"/>
<text x="386.6" y="238.03" font-size="7.3" text-anchor="middle" fill="#2a2a2a" color="#2a2a2a">0</text>
<text x="404.69" y="238.03" font-size="7.3" text-anchor="middle" fill="#2a2a2a" color="#2a2a2a">3</text>
<text x="422.78" y="238.03" font-size="7.3" text-anchor="middle" fill="#2a2a2a" color="#2a2a2a">6</text>
<text x="440.87" y="238.03" font-size="7.3" text-anchor="middle" fill="#2a2a2a" color="#2a2a2a">9</text>
<text x="458.96" y="238.03" font-size="7.3" text-anchor="middle" fill="#2a2a2a" color="#2a2a2a">12</text>
<text x="477.05" y="238.03" font-size="7.3" text-anchor="middle" fill="#2a2a2a" color="#2a2a2a">15</text>
<text x="495.14" y="238.03" font-size="7.3" text-anchor="middle" fill="#2a2a2a" color="#2a2a2a">18</text>
<text x="440.87" y="249.44" font-size="7.6" text-anchor="middle" fill="#2a2a2a" color="#2a2a2a">Manufacturing day</text>
<text x="458" y="202.07" font-size="7.7" text-anchor="start" fill="#6AAA44" color="#6AAA44">MCL</text>
<text x="458" y="210.27" font-size="7.7" text-anchor="start" fill="#4670C0" color="#4670C0">FL</text>
<text x="458" y="218.97" font-size="7.7" text-anchor="start" fill="#EB7B33" color="#EB7B33">DLBCL</text>
<text transform="translate(2.6 283.14) scale(0.88 1)" font-size="10.4" text-anchor="start" fill="#111" color="#111" font-weight="bold">B</text>
<text x="73.7" y="283.37" font-size="7.7" text-anchor="start" fill="#2a2a2a" color="#2a2a2a">Final product cell phenotype</text>
<line x1="25.8" y1="366.08" x2="216" y2="366.08" stroke="#ebebeb" stroke-width="0.8"/>
<line x1="25.8" y1="349.86" x2="216" y2="349.86" stroke="#ebebeb" stroke-width="0.8"/>
<line x1="25.8" y1="333.64" x2="216" y2="333.64" stroke="#ebebeb" stroke-width="0.8"/>
<line x1="25.8" y1="317.42" x2="216" y2="317.42" stroke="#ebebeb" stroke-width="0.8"/>
<line x1="25.8" y1="301.2" x2="216" y2="301.2" stroke="#ebebeb" stroke-width="0.8"/>
<line x1="25.8" y1="300.2" x2="25.8" y2="382.3" stroke="#999999" stroke-width="1.1"/>
<line x1="25.8" y1="382.3" x2="221" y2="382.3" stroke="#999999" stroke-width="1.1"/>
<line x1="23.8" y1="382.3" x2="25.8" y2="382.3" stroke="#999999" stroke-width="0.9"/>
<text x="21.3" y="384.93" font-size="7.3" text-anchor="end" fill="#2a2a2a" color="#2a2a2a">0</text>
<line x1="23.8" y1="366.08" x2="25.8" y2="366.08" stroke="#999999" stroke-width="0.9"/>
<text x="21.3" y="368.71" font-size="7.3" text-anchor="end" fill="#2a2a2a" color="#2a2a2a">20</text>
<line x1="23.8" y1="349.86" x2="25.8" y2="349.86" stroke="#999999" stroke-width="0.9"/>
<text x="21.3" y="352.49" font-size="7.3" text-anchor="end" fill="#2a2a2a" color="#2a2a2a">40</text>
<line x1="23.8" y1="333.64" x2="25.8" y2="333.64" stroke="#999999" stroke-width="0.9"/>
<text x="21.3" y="336.27" font-size="7.3" text-anchor="end" fill="#2a2a2a" color="#2a2a2a">60</text>
<line x1="23.8" y1="317.42" x2="25.8" y2="317.42" stroke="#999999" stroke-width="0.9"/>
<text x="21.3" y="320.05" font-size="7.3" text-anchor="end" fill="#2a2a2a" color="#2a2a2a">80</text>
<line x1="23.8" y1="301.2" x2="25.8" y2="301.2" stroke="#999999" stroke-width="0.9"/>
<text x="21.3" y="303.83" font-size="7.3" text-anchor="end" fill="#2a2a2a" color="#2a2a2a">100</text>
<rect x="30.15" y="302.01" width="3.8" height="80.29" fill="#4472C4"/>
<rect x="34.85" y="340.94" width="4.3" height="41.36" fill="#ED7D31"/>
<text x="32.05" y="298.84" font-size="7.3" text-anchor="middle" fill="#2a2a2a" color="#2a2a2a">99</text>
<text x="37.15" y="337.77" font-size="7.3" text-anchor="middle" fill="#2a2a2a" color="#2a2a2a">51</text>
<line x1="25.85" y1="382.3" x2="25.85" y2="384.8" stroke="#999999" stroke-width="1"/>
<text x="34.15" y="392.93" font-size="7.3" text-anchor="middle" fill="#2a2a2a" color="#2a2a2a">001</text>
<line x1="28.95" y1="396.6" x2="40.95" y2="396.6" stroke="#C0222D" stroke-width="1.8"/>
<rect x="47.9" y="306.07" width="3.8" height="76.23" fill="#4472C4"/>
<rect x="52.6" y="372.57" width="4.3" height="9.73" fill="#ED7D31"/>
<text x="49.8" y="302.89" font-size="7.3" text-anchor="middle" fill="#2a2a2a" color="#2a2a2a">94</text>
<text x="54.9" y="369.4" font-size="7.3" text-anchor="middle" fill="#2a2a2a" color="#2a2a2a">12</text>
<line x1="43.6" y1="382.3" x2="43.6" y2="384.8" stroke="#999999" stroke-width="1"/>
<text x="51.9" y="392.93" font-size="7.3" text-anchor="middle" fill="#2a2a2a" color="#2a2a2a">002</text>
<rect x="65.65" y="302.01" width="3.8" height="80.29" fill="#4472C4"/>
<rect x="70.35" y="354.73" width="4.3" height="27.57" fill="#ED7D31"/>
<text x="67.55" y="298.84" font-size="7.3" text-anchor="middle" fill="#2a2a2a" color="#2a2a2a">99</text>
<text x="72.65" y="351.55" font-size="7.3" text-anchor="middle" fill="#2a2a2a" color="#2a2a2a">34</text>
<line x1="61.35" y1="382.3" x2="61.35" y2="384.8" stroke="#999999" stroke-width="1"/>
<text x="69.65" y="392.93" font-size="7.3" text-anchor="middle" fill="#2a2a2a" color="#2a2a2a">003</text>
<line x1="64.45" y1="396.6" x2="76.45" y2="396.6" stroke="#C0222D" stroke-width="1.8"/>
<rect x="83.4" y="310.93" width="3.8" height="71.37" fill="#4472C4"/>
<rect x="88.1" y="358.78" width="4.3" height="23.52" fill="#ED7D31"/>
<text x="85.3" y="307.76" font-size="7.3" text-anchor="middle" fill="#2a2a2a" color="#2a2a2a">88</text>
<text x="90.4" y="355.61" font-size="7.3" text-anchor="middle" fill="#2a2a2a" color="#2a2a2a">29</text>
<line x1="79.1" y1="382.3" x2="79.1" y2="384.8" stroke="#999999" stroke-width="1"/>
<text x="87.4" y="392.93" font-size="7.3" text-anchor="middle" fill="#2a2a2a" color="#2a2a2a">004</text>
<rect x="101.15" y="302.82" width="3.8" height="79.48" fill="#4472C4"/>
<rect x="105.85" y="341.75" width="4.3" height="40.55" fill="#ED7D31"/>
<text x="103.05" y="299.65" font-size="7.3" text-anchor="middle" fill="#2a2a2a" color="#2a2a2a">98</text>
<text x="108.15" y="338.58" font-size="7.3" text-anchor="middle" fill="#2a2a2a" color="#2a2a2a">50</text>
<line x1="96.85" y1="382.3" x2="96.85" y2="384.8" stroke="#999999" stroke-width="1"/>
<text x="105.15" y="392.93" font-size="7.3" text-anchor="middle" fill="#2a2a2a" color="#2a2a2a">005</text>
<rect x="118.9" y="302.82" width="3.8" height="79.48" fill="#4472C4"/>
<rect x="123.6" y="381.49" width="4.3" height="0.81" fill="#ED7D31"/>
<text x="120.8" y="299.65" font-size="7.3" text-anchor="middle" fill="#2a2a2a" color="#2a2a2a">98</text>
<text x="125.9" y="378.32" font-size="7.3" text-anchor="middle" fill="#2a2a2a" color="#2a2a2a">1</text>
<line x1="114.6" y1="382.3" x2="114.6" y2="384.8" stroke="#999999" stroke-width="1"/>
<text x="122.9" y="392.93" font-size="7.3" text-anchor="middle" fill="#2a2a2a" color="#2a2a2a">007</text>
<rect x="136.65" y="309.31" width="3.8" height="72.99" fill="#4472C4"/>
<rect x="141.35" y="372.57" width="4.3" height="9.73" fill="#ED7D31"/>
<text x="138.55" y="306.14" font-size="7.3" text-anchor="middle" fill="#2a2a2a" color="#2a2a2a">90</text>
<text x="143.65" y="369.4" font-size="7.3" text-anchor="middle" fill="#2a2a2a" color="#2a2a2a">12</text>
<line x1="132.35" y1="382.3" x2="132.35" y2="384.8" stroke="#999999" stroke-width="1"/>
<text x="140.65" y="392.93" font-size="7.3" text-anchor="middle" fill="#2a2a2a" color="#2a2a2a">009</text>
<rect x="154.4" y="303.63" width="3.8" height="78.67" fill="#4472C4"/>
<rect x="159.1" y="379.87" width="4.3" height="2.43" fill="#ED7D31"/>
<text x="156.3" y="300.46" font-size="7.3" text-anchor="middle" fill="#2a2a2a" color="#2a2a2a">97</text>
<line x1="150.1" y1="382.3" x2="150.1" y2="384.8" stroke="#999999" stroke-width="1"/>
<text x="158.4" y="392.93" font-size="7.3" text-anchor="middle" fill="#2a2a2a" color="#2a2a2a">010</text>
<line x1="153.2" y1="396.6" x2="165.2" y2="396.6" stroke="#C0222D" stroke-width="1.8"/>
<rect x="172.15" y="302.01" width="3.8" height="80.29" fill="#4472C4"/>
<rect x="176.85" y="366.08" width="4.3" height="16.22" fill="#ED7D31"/>
<text x="174.05" y="298.84" font-size="7.3" text-anchor="middle" fill="#2a2a2a" color="#2a2a2a">99</text>
<text x="179.15" y="362.91" font-size="7.3" text-anchor="middle" fill="#2a2a2a" color="#2a2a2a">20</text>
<line x1="167.85" y1="382.3" x2="167.85" y2="384.8" stroke="#999999" stroke-width="1"/>
<text x="176.15" y="392.93" font-size="7.3" text-anchor="middle" fill="#2a2a2a" color="#2a2a2a">014</text>
<rect x="189.9" y="308.5" width="3.8" height="73.8" fill="#4472C4"/>
<rect x="194.6" y="366.89" width="4.3" height="15.41" fill="#ED7D31"/>
<text x="191.8" y="305.33" font-size="7.3" text-anchor="middle" fill="#2a2a2a" color="#2a2a2a">91</text>
<text x="196.9" y="363.72" font-size="7.3" text-anchor="middle" fill="#2a2a2a" color="#2a2a2a">19</text>
<line x1="185.6" y1="382.3" x2="185.6" y2="384.8" stroke="#999999" stroke-width="1"/>
<text x="193.9" y="392.93" font-size="7.3" text-anchor="middle" fill="#2a2a2a" color="#2a2a2a">016</text>
<rect x="207.65" y="301.2" width="3.8" height="81.1" fill="#4472C4"/>
<rect x="212.35" y="376.62" width="4.3" height="5.68" fill="#ED7D31"/>
<text x="209.55" y="298.03" font-size="7.3" text-anchor="middle" fill="#2a2a2a" color="#2a2a2a">100</text>
<text x="214.65" y="373.45" font-size="7.3" text-anchor="middle" fill="#2a2a2a" color="#2a2a2a">7</text>
<line x1="203.35" y1="382.3" x2="203.35" y2="384.8" stroke="#999999" stroke-width="1"/>
<text x="211.65" y="392.93" font-size="7.3" text-anchor="middle" fill="#2a2a2a" color="#2a2a2a">017</text>
<line x1="206.45" y1="396.6" x2="218.45" y2="396.6" stroke="#C0222D" stroke-width="1.8"/>
<line x1="221.15" y1="382.3" x2="221.15" y2="384.8" stroke="#999999" stroke-width="1"/>
<text x="124.5" y="404.07" font-size="7.7" text-anchor="middle" fill="#2a2a2a" color="#2a2a2a">Patient ID</text>
<text x="3.3" y="343.97" font-size="7.7" text-anchor="middle" fill="#2a2a2a" color="#2a2a2a" transform="rotate(-90 3.3 341.2)">% of viable singlets</text>
<rect x="219.2" y="323.3" width="2.9" height="2.9" fill="#4472C4"/>
<text x="223.6" y="327.37" font-size="7.7" text-anchor="start" fill="#2a2a2a" color="#2a2a2a">CD3<tspan dy="-2.93" font-size="4.77">+</tspan><tspan dy="2.93"></tspan></text>
<rect x="219.2" y="336.9" width="2.9" height="2.9" fill="#ED7D31"/>
<text x="223.6" y="340.97" font-size="7.7" text-anchor="start" fill="#2a2a2a" color="#2a2a2a">CD3<tspan dy="-2.93" font-size="4.77">+</tspan><tspan dy="2.93">CAR<tspan dy="-2.93" font-size="4.77">+</tspan><tspan dy="2.93"></tspan></tspan></text>
<line x1="294.4" y1="379.5" x2="381" y2="379.5" stroke="#ebebeb" stroke-width="0.8"/>
<line x1="294.4" y1="363.5" x2="381" y2="363.5" stroke="#ebebeb" stroke-width="0.8"/>
<line x1="294.4" y1="347.5" x2="381" y2="347.5" stroke="#ebebeb" stroke-width="0.8"/>
<line x1="294.4" y1="331.5" x2="381" y2="331.5" stroke="#ebebeb" stroke-width="0.8"/>
<line x1="294.4" y1="315.5" x2="381" y2="315.5" stroke="#ebebeb" stroke-width="0.8"/>
<line x1="294.4" y1="299.5" x2="381" y2="299.5" stroke="#ebebeb" stroke-width="0.8"/>
<line x1="294.4" y1="299" x2="294.4" y2="395.5" stroke="#999999" stroke-width="1.1"/>
<line x1="294.4" y1="395.5" x2="381" y2="395.5" stroke="#999999" stroke-width="1.1"/>
<line x1="292.4" y1="395.5" x2="294.4" y2="395.5" stroke="#999999" stroke-width="0.9"/>
<text x="290.3" y="398.13" font-size="7.3" text-anchor="end" fill="#2a2a2a" color="#2a2a2a">0</text>
<line x1="292.4" y1="379.5" x2="294.4" y2="379.5" stroke="#999999" stroke-width="0.9"/>
<text x="290.3" y="382.13" font-size="7.3" text-anchor="end" fill="#2a2a2a" color="#2a2a2a">20</text>
<line x1="292.4" y1="363.5" x2="294.4" y2="363.5" stroke="#999999" stroke-width="0.9"/>
<text x="290.3" y="366.13" font-size="7.3" text-anchor="end" fill="#2a2a2a" color="#2a2a2a">40</text>
<line x1="292.4" y1="347.5" x2="294.4" y2="347.5" stroke="#999999" stroke-width="0.9"/>
<text x="290.3" y="350.13" font-size="7.3" text-anchor="end" fill="#2a2a2a" color="#2a2a2a">60</text>
<line x1="292.4" y1="331.5" x2="294.4" y2="331.5" stroke="#999999" stroke-width="0.9"/>
<text x="290.3" y="334.13" font-size="7.3" text-anchor="end" fill="#2a2a2a" color="#2a2a2a">80</text>
<line x1="292.4" y1="315.5" x2="294.4" y2="315.5" stroke="#999999" stroke-width="0.9"/>
<text x="290.3" y="318.13" font-size="7.3" text-anchor="end" fill="#2a2a2a" color="#2a2a2a">100</text>
<line x1="292.4" y1="299.5" x2="294.4" y2="299.5" stroke="#999999" stroke-width="0.9"/>
<text x="290.3" y="302.13" font-size="7.3" text-anchor="end" fill="#2a2a2a" color="#2a2a2a">120</text>
<line x1="326" y1="315.5" x2="326" y2="316.3" stroke="#4472C4" stroke-width="0.8"/>
<line x1="326" y1="323.5" x2="326" y2="325.1" stroke="#4472C4" stroke-width="0.8"/>
<line x1="321.78" y1="315.5" x2="330.22" y2="315.5" stroke="#4472C4" stroke-width="0.8"/>
<line x1="321.78" y1="325.1" x2="330.22" y2="325.1" stroke="#4472C4" stroke-width="0.8"/>
<rect x="316.4" y="316.3" width="19.2" height="7.2" fill="#C9D6EF" stroke="#4472C4" stroke-width="0.8"/>
<line x1="316.4" y1="317.5" x2="335.6" y2="317.5" stroke="#4472C4" stroke-width="0.8"/>
<circle cx="326" cy="320.3" r="0.9" fill="#4472C4" opacity="0.8"/>
<circle cx="326" cy="317.1" r="0.9" fill="#4472C4" opacity="0.8"/>
<circle cx="326" cy="322.7" r="0.9" fill="#4472C4" opacity="0.8"/>
<circle cx="326" cy="316.3" r="0.9" fill="#4472C4" opacity="0.8"/>
<line x1="324.4" y1="317.42" x2="327.6" y2="320.62" stroke="#4472C4" stroke-width="0.8"/>
<line x1="324.4" y1="320.62" x2="327.6" y2="317.42" stroke="#4472C4" stroke-width="0.8"/>
<line x1="348" y1="354.7" x2="348" y2="368.3" stroke="#ED7D31" stroke-width="0.8"/>
<line x1="348" y1="389.9" x2="348" y2="394.7" stroke="#ED7D31" stroke-width="0.8"/>
<line x1="343.71" y1="354.7" x2="352.29" y2="354.7" stroke="#ED7D31" stroke-width="0.8"/>
<line x1="343.71" y1="394.7" x2="352.29" y2="394.7" stroke="#ED7D31" stroke-width="0.8"/>
<rect x="338.25" y="368.3" width="19.5" height="21.6" fill="#FBE1D0" stroke="#ED7D31" stroke-width="0.8"/>
<line x1="338.25" y1="379.9" x2="357.75" y2="379.9" stroke="#ED7D31" stroke-width="0.8"/>
<circle cx="348" cy="385.9" r="0.9" fill="#ED7D31" opacity="0.8"/>
<circle cx="348" cy="372.3" r="0.9" fill="#ED7D31" opacity="0.8"/>
<circle cx="348" cy="379.5" r="0.9" fill="#ED7D31" opacity="0.8"/>
<circle cx="348" cy="380.3" r="0.9" fill="#ED7D31" opacity="0.8"/>
<circle cx="348" cy="355.5" r="0.9" fill="#ED7D31" opacity="0.8"/>
<circle cx="348" cy="368.3" r="0.9" fill="#ED7D31" opacity="0.8"/>
<line x1="346.4" y1="377.1" x2="349.6" y2="380.3" stroke="#ED7D31" stroke-width="0.8"/>
<line x1="346.4" y1="380.3" x2="349.6" y2="377.1" stroke="#ED7D31" stroke-width="0.8"/>
<text x="272.5" y="350.27" font-size="7.7" text-anchor="middle" fill="#2a2a2a" color="#2a2a2a" transform="rotate(-90 272.5 347.5)">% of viable singlets</text>
<rect x="338.4" y="294.6" width="4" height="4" fill="#C9D6EF" stroke="#4472C4" stroke-width="0.7"/>
<text x="344.4" y="299.38" font-size="8" text-anchor="start" fill="#2a2a2a" color="#2a2a2a">CD3<tspan dy="-3.04" font-size="4.96">+</tspan><tspan dy="3.04"></tspan></text>
<rect x="338.4" y="305.4" width="4" height="4" fill="#FBE1D0" stroke="#ED7D31" stroke-width="0.7"/>
<text x="344.4" y="310.18" font-size="8" text-anchor="start" fill="#2a2a2a" color="#2a2a2a">CD3<tspan dy="-3.04" font-size="4.96">+</tspan><tspan dy="3.04">CAR<tspan dy="-3.04" font-size="4.96">+</tspan><tspan dy="3.04"></tspan></tspan></text>
<text transform="translate(394.6 283.74) scale(0.95 1)" font-size="10.4" text-anchor="start" fill="#111" color="#111" font-weight="bold">C</text>
<line x1="426.5" y1="380.17" x2="515" y2="380.17" stroke="#ebebeb" stroke-width="0.8"/>
<line x1="426.5" y1="363.74" x2="515" y2="363.74" stroke="#ebebeb" stroke-width="0.8"/>
<line x1="426.5" y1="347.31" x2="515" y2="347.31" stroke="#ebebeb" stroke-width="0.8"/>
<line x1="426.5" y1="330.88" x2="515" y2="330.88" stroke="#ebebeb" stroke-width="0.8"/>
<line x1="426.5" y1="314.45" x2="515" y2="314.45" stroke="#ebebeb" stroke-width="0.8"/>
<line x1="426.5" y1="298.02" x2="515" y2="298.02" stroke="#ebebeb" stroke-width="0.8"/>
<line x1="426.5" y1="297.52" x2="426.5" y2="396.6" stroke="#999999" stroke-width="1.1"/>
<line x1="426.5" y1="396.6" x2="515" y2="396.6" stroke="#999999" stroke-width="1.1"/>
<line x1="424.5" y1="396.6" x2="426.5" y2="396.6" stroke="#999999" stroke-width="0.9"/>
<text x="422" y="399.23" font-size="7.3" text-anchor="end" fill="#2a2a2a" color="#2a2a2a">0</text>
<line x1="424.5" y1="380.17" x2="426.5" y2="380.17" stroke="#999999" stroke-width="0.9"/>
<text x="422" y="382.8" font-size="7.3" text-anchor="end" fill="#2a2a2a" color="#2a2a2a">10</text>
<line x1="424.5" y1="363.74" x2="426.5" y2="363.74" stroke="#999999" stroke-width="0.9"/>
<text x="422" y="366.37" font-size="7.3" text-anchor="end" fill="#2a2a2a" color="#2a2a2a">20</text>
<line x1="424.5" y1="347.31" x2="426.5" y2="347.31" stroke="#999999" stroke-width="0.9"/>
<text x="422" y="349.94" font-size="7.3" text-anchor="end" fill="#2a2a2a" color="#2a2a2a">30</text>
<line x1="424.5" y1="330.88" x2="426.5" y2="330.88" stroke="#999999" stroke-width="0.9"/>
<text x="422" y="333.51" font-size="7.3" text-anchor="end" fill="#2a2a2a" color="#2a2a2a">40</text>
<line x1="424.5" y1="314.45" x2="426.5" y2="314.45" stroke="#999999" stroke-width="0.9"/>
<text x="422" y="317.08" font-size="7.3" text-anchor="end" fill="#2a2a2a" color="#2a2a2a">50</text>
<line x1="424.5" y1="298.02" x2="426.5" y2="298.02" stroke="#999999" stroke-width="0.9"/>
<text x="422" y="300.65" font-size="7.3" text-anchor="end" fill="#2a2a2a" color="#2a2a2a">60</text>
<line x1="460.8" y1="312.81" x2="460.8" y2="314.45" stroke="#4472C4" stroke-width="0.8"/>
<line x1="460.8" y1="376.88" x2="460.8" y2="394.96" stroke="#4472C4" stroke-width="0.8"/>
<line x1="456.07" y1="312.81" x2="465.53" y2="312.81" stroke="#4472C4" stroke-width="0.8"/>
<line x1="456.07" y1="394.96" x2="465.53" y2="394.96" stroke="#4472C4" stroke-width="0.8"/>
<rect x="450.05" y="314.45" width="21.5" height="62.43" fill="#C9D6EF" stroke="#4472C4" stroke-width="0.8"/>
<line x1="450.05" y1="348.95" x2="471.55" y2="348.95" stroke="#4472C4" stroke-width="0.8"/>
<circle cx="460.8" cy="340.74" r="0.9" fill="#4472C4" opacity="0.8"/>
<circle cx="460.8" cy="365.38" r="0.9" fill="#4472C4" opacity="0.8"/>
<circle cx="460.8" cy="376.88" r="0.9" fill="#4472C4" opacity="0.8"/>
<circle cx="460.8" cy="314.45" r="0.9" fill="#4472C4" opacity="0.8"/>
<line x1="459.2" y1="348.5" x2="462.4" y2="351.7" stroke="#4472C4" stroke-width="0.8"/>
<line x1="459.2" y1="351.7" x2="462.4" y2="348.5" stroke="#4472C4" stroke-width="0.8"/>
<line x1="484.7" y1="363.74" x2="484.7" y2="367.03" stroke="#ED7D31" stroke-width="0.8"/>
<line x1="484.7" y1="390.03" x2="484.7" y2="391.67" stroke="#ED7D31" stroke-width="0.8"/>
<line x1="480.01" y1="363.74" x2="489.39" y2="363.74" stroke="#ED7D31" stroke-width="0.8"/>
<line x1="480.01" y1="391.67" x2="489.39" y2="391.67" stroke="#ED7D31" stroke-width="0.8"/>
<rect x="474.05" y="367.03" width="21.3" height="23" fill="#FBE1D0" stroke="#ED7D31" stroke-width="0.8"/>
<line x1="474.05" y1="380.17" x2="495.35" y2="380.17" stroke="#ED7D31" stroke-width="0.8"/>
<circle cx="484.7" cy="385.1" r="0.9" fill="#ED7D31" opacity="0.8"/>
<circle cx="484.7" cy="376.88" r="0.9" fill="#ED7D31" opacity="0.8"/>
<circle cx="484.7" cy="363.74" r="0.9" fill="#ED7D31" opacity="0.8"/>
<line x1="483.1" y1="376.6" x2="486.3" y2="379.8" stroke="#ED7D31" stroke-width="0.8"/>
<line x1="483.1" y1="379.8" x2="486.3" y2="376.6" stroke="#ED7D31" stroke-width="0.8"/>
<text x="472.6" y="294.07" font-size="7.7" text-anchor="middle" fill="#2a2a2a" color="#2a2a2a"><tspan font-style="italic">P</tspan> = 0.058</text>
<polyline points="461.6,300 461.6,297.3 483.7,297.3 483.7,300" fill="none" stroke="#444" stroke-width="0.9"/>
<text x="399.8" y="349.37" font-size="7.7" text-anchor="middle" fill="#2a2a2a" color="#2a2a2a" transform="rotate(-90 399.8 346.6)">CD3<tspan dy="-2.93" font-size="4.77">+</tspan><tspan dy="2.93">CAR<tspan dy="-2.93" font-size="4.77">+</tspan><tspan dy="2.93"> as % of</tspan></tspan></text>
<text x="407.1" y="348.97" font-size="7.7" text-anchor="middle" fill="#2a2a2a" color="#2a2a2a" transform="rotate(-90 407.1 346.2)">viable singlets</text>
<rect x="484.6" y="323.5" width="3.8" height="3.8" fill="#C9D6EF" stroke="#6D8FD0" stroke-width="0.7"/>
<text x="490.2" y="328.11" font-size="7.8" text-anchor="start" fill="#2a2a2a" color="#2a2a2a">Virus #1</text>
<rect x="484.6" y="332.7" width="3.8" height="3.8" fill="#FBE1D0" stroke="#F0A070" stroke-width="0.7"/>
<text x="490.2" y="337.31" font-size="7.8" text-anchor="start" fill="#2a2a2a" color="#2a2a2a">Virus #2</text>
<text transform="translate(32.8 428.74) scale(0.86 1)" font-size="10.4" text-anchor="start" fill="#111" color="#111" font-weight="bold">D</text>
<text x="101.2" y="433.37" font-size="7.7" text-anchor="start" fill="#2a2a2a" color="#2a2a2a">Subtype distribution among all T cells</text>
<line x1="65.9" y1="521.39" x2="262" y2="521.39" stroke="#ebebeb" stroke-width="0.8"/>
<line x1="65.9" y1="512.48" x2="262" y2="512.48" stroke="#ebebeb" stroke-width="0.8"/>
<line x1="65.9" y1="503.57" x2="262" y2="503.57" stroke="#ebebeb" stroke-width="0.8"/>
<line x1="65.9" y1="494.66" x2="262" y2="494.66" stroke="#ebebeb" stroke-width="0.8"/>
<line x1="65.9" y1="485.75" x2="262" y2="485.75" stroke="#ebebeb" stroke-width="0.8"/>
<line x1="65.9" y1="476.84" x2="262" y2="476.84" stroke="#ebebeb" stroke-width="0.8"/>
<line x1="65.9" y1="467.93" x2="262" y2="467.93" stroke="#ebebeb" stroke-width="0.8"/>
<line x1="65.9" y1="459.02" x2="262" y2="459.02" stroke="#ebebeb" stroke-width="0.8"/>
<line x1="65.9" y1="450.11" x2="262" y2="450.11" stroke="#ebebeb" stroke-width="0.8"/>
<line x1="65.9" y1="441.2" x2="262" y2="441.2" stroke="#ebebeb" stroke-width="0.8"/>
<line x1="65.9" y1="440.7" x2="65.9" y2="530.3" stroke="#999999" stroke-width="1.1"/>
<line x1="65.9" y1="530.3" x2="262" y2="530.3" stroke="#999999" stroke-width="1.1"/>
<line x1="63.9" y1="530.3" x2="65.9" y2="530.3" stroke="#999999" stroke-width="0.9"/>
<text x="62.4" y="532.93" font-size="7.3" text-anchor="end" fill="#2a2a2a" color="#2a2a2a">0</text>
<line x1="63.9" y1="521.39" x2="65.9" y2="521.39" stroke="#999999" stroke-width="0.9"/>
<text x="62.4" y="524.02" font-size="7.3" text-anchor="end" fill="#2a2a2a" color="#2a2a2a">10</text>
<line x1="63.9" y1="512.48" x2="65.9" y2="512.48" stroke="#999999" stroke-width="0.9"/>
<text x="62.4" y="515.11" font-size="7.3" text-anchor="end" fill="#2a2a2a" color="#2a2a2a">20</text>
<line x1="63.9" y1="503.57" x2="65.9" y2="503.57" stroke="#999999" stroke-width="0.9"/>
<text x="62.4" y="506.2" font-size="7.3" text-anchor="end" fill="#2a2a2a" color="#2a2a2a">30</text>
<line x1="63.9" y1="494.66" x2="65.9" y2="494.66" stroke="#999999" stroke-width="0.9"/>
<text x="62.4" y="497.29" font-size="7.3" text-anchor="end" fill="#2a2a2a" color="#2a2a2a">40</text>
<line x1="63.9" y1="485.75" x2="65.9" y2="485.75" stroke="#999999" stroke-width="0.9"/>
<text x="62.4" y="488.38" font-size="7.3" text-anchor="end" fill="#2a2a2a" color="#2a2a2a">50</text>
<line x1="63.9" y1="476.84" x2="65.9" y2="476.84" stroke="#999999" stroke-width="0.9"/>
<text x="62.4" y="479.47" font-size="7.3" text-anchor="end" fill="#2a2a2a" color="#2a2a2a">60</text>
<line x1="63.9" y1="467.93" x2="65.9" y2="467.93" stroke="#999999" stroke-width="0.9"/>
<text x="62.4" y="470.56" font-size="7.3" text-anchor="end" fill="#2a2a2a" color="#2a2a2a">70</text>
<line x1="63.9" y1="459.02" x2="65.9" y2="459.02" stroke="#999999" stroke-width="0.9"/>
<text x="62.4" y="461.65" font-size="7.3" text-anchor="end" fill="#2a2a2a" color="#2a2a2a">80</text>
<line x1="63.9" y1="450.11" x2="65.9" y2="450.11" stroke="#999999" stroke-width="0.9"/>
<text x="62.4" y="452.74" font-size="7.3" text-anchor="end" fill="#2a2a2a" color="#2a2a2a">90</text>
<line x1="63.9" y1="441.2" x2="65.9" y2="441.2" stroke="#999999" stroke-width="0.9"/>
<text x="62.4" y="443.83" font-size="7.3" text-anchor="end" fill="#2a2a2a" color="#2a2a2a">100</text>
<rect x="72.2" y="485.13" width="5.6" height="45.17" fill="#EC7C30"/>
<rect x="72.2" y="480.85" width="5.6" height="4.28" fill="#A0AABA"/>
<rect x="72.2" y="444.59" width="5.6" height="36.26" fill="#A2A2A2"/>
<rect x="72.2" y="443.87" width="5.6" height="0.71" fill="#A79C70"/>
<text x="75" y="510.12" font-size="7.3" text-anchor="middle" fill="#3a2a1a" color="#3a2a1a">51</text>
<line x1="83.9" y1="530.3" x2="83.9" y2="532.8" stroke="#999999" stroke-width="1"/>
<text x="75" y="538.93" font-size="7.3" text-anchor="middle" fill="#2a2a2a" color="#2a2a2a">001</text>
<line x1="69.2" y1="544.5" x2="81.2" y2="544.5" stroke="#C0222D" stroke-width="1.8"/>
<rect x="90.08" y="512.12" width="5.6" height="18.18" fill="#EC7C30"/>
<rect x="90.08" y="444.14" width="5.6" height="67.98" fill="#A2A2A2"/>
<rect x="90.08" y="443.43" width="5.6" height="0.71" fill="#A79C70"/>
<text x="92.88" y="524.37" font-size="7.3" text-anchor="middle" fill="#3a2a1a" color="#3a2a1a">20</text>
<line x1="101.78" y1="530.3" x2="101.78" y2="532.8" stroke="#999999" stroke-width="1"/>
<text x="92.88" y="538.93" font-size="7.3" text-anchor="middle" fill="#2a2a2a" color="#2a2a2a">002</text>
<rect x="107.95" y="490.92" width="5.6" height="39.38" fill="#EC7C30"/>
<rect x="107.95" y="487.09" width="5.6" height="3.83" fill="#A0AABA"/>
<rect x="107.95" y="443.34" width="5.6" height="43.75" fill="#A2A2A2"/>
<rect x="107.95" y="442.63" width="5.6" height="0.71" fill="#A79C70"/>
<text x="110.75" y="513.68" font-size="7.3" text-anchor="middle" fill="#3a2a1a" color="#3a2a1a">43</text>
<line x1="119.65" y1="530.3" x2="119.65" y2="532.8" stroke="#999999" stroke-width="1"/>
<text x="110.75" y="538.93" font-size="7.3" text-anchor="middle" fill="#2a2a2a" color="#2a2a2a">003</text>
<line x1="104.95" y1="544.5" x2="116.95" y2="544.5" stroke="#C0222D" stroke-width="1.8"/>
<rect x="125.83" y="511.77" width="5.6" height="18.53" fill="#EC7C30"/>
<rect x="125.83" y="452.52" width="5.6" height="59.25" fill="#A2A2A2"/>
<text x="128.62" y="523.31" font-size="7.3" text-anchor="middle" fill="#3a2a1a" color="#3a2a1a">21</text>
<line x1="137.53" y1="530.3" x2="137.53" y2="532.8" stroke="#999999" stroke-width="1"/>
<text x="128.62" y="538.93" font-size="7.3" text-anchor="middle" fill="#2a2a2a" color="#2a2a2a">004</text>
<rect x="143.7" y="520.41" width="5.6" height="9.89" fill="#EC7C30"/>
<rect x="143.7" y="516.04" width="5.6" height="4.37" fill="#A0AABA"/>
<rect x="143.7" y="456.35" width="5.6" height="59.7" fill="#A2A2A2"/>
<rect x="143.7" y="453.67" width="5.6" height="2.67" fill="#F2C230"/>
<text x="146.5" y="529.1" font-size="7.3" text-anchor="middle" fill="#3a2a1a" color="#3a2a1a">10</text>
<line x1="155.4" y1="530.3" x2="155.4" y2="532.8" stroke="#999999" stroke-width="1"/>
<text x="146.5" y="538.93" font-size="7.3" text-anchor="middle" fill="#2a2a2a" color="#2a2a2a">005</text>
<rect x="161.57" y="491.99" width="5.6" height="38.31" fill="#EC7C30"/>
<rect x="161.57" y="485.04" width="5.6" height="6.95" fill="#A0AABA"/>
<rect x="161.57" y="459.91" width="5.6" height="25.13" fill="#A2A2A2"/>
<rect x="161.57" y="456.79" width="5.6" height="3.12" fill="#F2C230"/>
<text x="164.38" y="513.68" font-size="7.3" text-anchor="middle" fill="#3a2a1a" color="#3a2a1a">41</text>
<line x1="173.28" y1="530.3" x2="173.28" y2="532.8" stroke="#999999" stroke-width="1"/>
<text x="164.38" y="538.93" font-size="7.3" text-anchor="middle" fill="#2a2a2a" color="#2a2a2a">007</text>
<rect x="179.45" y="526.74" width="5.6" height="3.56" fill="#EC7C30"/>
<rect x="179.45" y="450.56" width="5.6" height="76.18" fill="#A2A2A2"/>
<text x="182.25" y="530.25" font-size="7.3" text-anchor="middle" fill="#3a2a1a" color="#3a2a1a">4</text>
<line x1="191.15" y1="530.3" x2="191.15" y2="532.8" stroke="#999999" stroke-width="1"/>
<text x="182.25" y="538.93" font-size="7.3" text-anchor="middle" fill="#2a2a2a" color="#2a2a2a">009</text>
<rect x="197.32" y="503.12" width="5.6" height="27.18" fill="#EC7C30"/>
<rect x="197.32" y="497.96" width="5.6" height="5.17" fill="#A0AABA"/>
<rect x="197.32" y="443.87" width="5.6" height="54.08" fill="#A2A2A2"/>
<text x="200.12" y="520.54" font-size="7.3" text-anchor="middle" fill="#3a2a1a" color="#3a2a1a">29</text>
<line x1="209.03" y1="530.3" x2="209.03" y2="532.8" stroke="#999999" stroke-width="1"/>
<text x="200.12" y="538.93" font-size="7.3" text-anchor="middle" fill="#2a2a2a" color="#2a2a2a">010</text>
<line x1="194.32" y1="544.5" x2="206.32" y2="544.5" stroke="#C0222D" stroke-width="1.8"/>
<rect x="215.2" y="462.76" width="5.6" height="67.54" fill="#EC7C30"/>
<rect x="215.2" y="453.5" width="5.6" height="9.27" fill="#A2A2A2"/>
<text x="218" y="499.34" font-size="7.3" text-anchor="middle" fill="#3a2a1a" color="#3a2a1a">75</text>
<line x1="226.9" y1="530.3" x2="226.9" y2="532.8" stroke="#999999" stroke-width="1"/>
<text x="218" y="538.93" font-size="7.3" text-anchor="middle" fill="#2a2a2a" color="#2a2a2a">014</text>
<rect x="233.07" y="523.08" width="5.6" height="7.22" fill="#3F6CBF"/>
<rect x="233.07" y="496.44" width="5.6" height="26.64" fill="#EC7C30"/>
<rect x="233.07" y="478.89" width="5.6" height="17.55" fill="#A2A2A2"/>
<rect x="233.07" y="474.26" width="5.6" height="4.63" fill="#F2C230"/>
<text x="235.88" y="512.17" font-size="7.3" text-anchor="middle" fill="#3a2a1a" color="#3a2a1a">29</text>
<line x1="244.78" y1="530.3" x2="244.78" y2="532.8" stroke="#999999" stroke-width="1"/>
<text x="235.88" y="538.93" font-size="7.3" text-anchor="middle" fill="#2a2a2a" color="#2a2a2a">016</text>
<rect x="250.95" y="528.25" width="5.6" height="2.05" fill="#3F6CBF"/>
<rect x="250.95" y="492.43" width="5.6" height="35.82" fill="#EC7C30"/>
<rect x="250.95" y="478.89" width="5.6" height="13.54" fill="#A2A2A2"/>
<rect x="250.95" y="475.95" width="5.6" height="2.94" fill="#F2C230"/>
<text x="253.75" y="513.15" font-size="7.3" text-anchor="middle" fill="#3a2a1a" color="#3a2a1a">38</text>
<line x1="262.65" y1="530.3" x2="262.65" y2="532.8" stroke="#999999" stroke-width="1"/>
<text x="253.75" y="538.93" font-size="7.3" text-anchor="middle" fill="#2a2a2a" color="#2a2a2a">017</text>
<line x1="247.95" y1="544.5" x2="259.95" y2="544.5" stroke="#C0222D" stroke-width="1.8"/>
<text x="164.2" y="549.97" font-size="7.7" text-anchor="middle" fill="#2a2a2a" color="#2a2a2a">Patient ID</text>
<text x="43" y="488.27" font-size="7.7" text-anchor="middle" fill="#2a2a2a" color="#2a2a2a" transform="rotate(-90 43 485.5)">% of CD3<tspan dy="-2.93" font-size="4.77">+</tspan><tspan dy="2.93"></tspan></text>
<rect x="271.3" y="472.7" width="3.6" height="3.6" fill="#FFC000"/>
<text x="277" y="477.27" font-size="7.7" text-anchor="start" fill="#2a2a2a" color="#2a2a2a">Te/exh</text>
<rect x="271.3" y="482.6" width="3.6" height="3.6" fill="#A5A5A5"/>
<text x="277" y="487.17" font-size="7.7" text-anchor="start" fill="#2a2a2a" color="#2a2a2a">Tem</text>
<rect x="271.3" y="492.8" width="3.6" height="3.6" fill="#ED7D31"/>
<text x="277" y="497.37" font-size="7.7" text-anchor="start" fill="#2a2a2a" color="#2a2a2a">Tcm</text>
<rect x="271.3" y="503.2" width="3.6" height="3.6" fill="#4472C4"/>
<text x="277" y="507.77" font-size="7.7" text-anchor="start" fill="#2a2a2a" color="#2a2a2a">Na&#239;ve</text>
<line x1="350.5" y1="521.65" x2="452" y2="521.65" stroke="#ebebeb" stroke-width="0.8"/>
<line x1="350.5" y1="511.8" x2="452" y2="511.8" stroke="#ebebeb" stroke-width="0.8"/>
<line x1="350.5" y1="501.95" x2="452" y2="501.95" stroke="#ebebeb" stroke-width="0.8"/>
<line x1="350.5" y1="492.1" x2="452" y2="492.1" stroke="#ebebeb" stroke-width="0.8"/>
<line x1="350.5" y1="482.25" x2="452" y2="482.25" stroke="#ebebeb" stroke-width="0.8"/>
<line x1="350.5" y1="472.4" x2="452" y2="472.4" stroke="#ebebeb" stroke-width="0.8"/>
<line x1="350.5" y1="462.55" x2="452" y2="462.55" stroke="#ebebeb" stroke-width="0.8"/>
<line x1="350.5" y1="452.7" x2="452" y2="452.7" stroke="#ebebeb" stroke-width="0.8"/>
<line x1="350.5" y1="442.85" x2="452" y2="442.85" stroke="#ebebeb" stroke-width="0.8"/>
<line x1="350.5" y1="433" x2="452" y2="433" stroke="#ebebeb" stroke-width="0.8"/>
<line x1="350.5" y1="432.5" x2="350.5" y2="531.5" stroke="#999999" stroke-width="1.1"/>
<line x1="350.5" y1="531.5" x2="452" y2="531.5" stroke="#999999" stroke-width="1.1"/>
<line x1="348.5" y1="531.5" x2="350.5" y2="531.5" stroke="#999999" stroke-width="0.9"/>
<text x="346.9" y="534.13" font-size="7.3" text-anchor="end" fill="#2a2a2a" color="#2a2a2a">0</text>
<line x1="348.5" y1="521.65" x2="350.5" y2="521.65" stroke="#999999" stroke-width="0.9"/>
<text x="346.9" y="524.28" font-size="7.3" text-anchor="end" fill="#2a2a2a" color="#2a2a2a">10</text>
<line x1="348.5" y1="511.8" x2="350.5" y2="511.8" stroke="#999999" stroke-width="0.9"/>
<text x="346.9" y="514.43" font-size="7.3" text-anchor="end" fill="#2a2a2a" color="#2a2a2a">20</text>
<line x1="348.5" y1="501.95" x2="350.5" y2="501.95" stroke="#999999" stroke-width="0.9"/>
<text x="346.9" y="504.58" font-size="7.3" text-anchor="end" fill="#2a2a2a" color="#2a2a2a">30</text>
<line x1="348.5" y1="492.1" x2="350.5" y2="492.1" stroke="#999999" stroke-width="0.9"/>
<text x="346.9" y="494.73" font-size="7.3" text-anchor="end" fill="#2a2a2a" color="#2a2a2a">40</text>
<line x1="348.5" y1="482.25" x2="350.5" y2="482.25" stroke="#999999" stroke-width="0.9"/>
<text x="346.9" y="484.88" font-size="7.3" text-anchor="end" fill="#2a2a2a" color="#2a2a2a">50</text>
<line x1="348.5" y1="472.4" x2="350.5" y2="472.4" stroke="#999999" stroke-width="0.9"/>
<text x="346.9" y="475.03" font-size="7.3" text-anchor="end" fill="#2a2a2a" color="#2a2a2a">60</text>
<line x1="348.5" y1="462.55" x2="350.5" y2="462.55" stroke="#999999" stroke-width="0.9"/>
<text x="346.9" y="465.18" font-size="7.3" text-anchor="end" fill="#2a2a2a" color="#2a2a2a">70</text>
<line x1="348.5" y1="452.7" x2="350.5" y2="452.7" stroke="#999999" stroke-width="0.9"/>
<text x="346.9" y="455.33" font-size="7.3" text-anchor="end" fill="#2a2a2a" color="#2a2a2a">80</text>
<line x1="348.5" y1="442.85" x2="350.5" y2="442.85" stroke="#999999" stroke-width="0.9"/>
<text x="346.9" y="445.48" font-size="7.3" text-anchor="end" fill="#2a2a2a" color="#2a2a2a">90</text>
<line x1="348.5" y1="433" x2="350.5" y2="433" stroke="#999999" stroke-width="0.9"/>
<text x="346.9" y="435.63" font-size="7.3" text-anchor="end" fill="#2a2a2a" color="#2a2a2a">100</text>
<text x="329.6" y="485.27" font-size="7.7" text-anchor="middle" fill="#2a2a2a" color="#2a2a2a" transform="rotate(-90 329.6 482.5)">% of CD3<tspan dy="-2.93" font-size="4.77">+</tspan><tspan dy="2.93"></tspan></text>
<line x1="381.6" y1="525.1" x2="381.6" y2="530.51" stroke="#FFC000" stroke-width="0.8"/>
<line x1="381.6" y1="531.5" x2="381.6" y2="531.5" stroke="#FFC000" stroke-width="0.8"/>
<line x1="379.18" y1="525.1" x2="384.02" y2="525.1" stroke="#FFC000" stroke-width="0.8"/>
<line x1="379.18" y1="531.5" x2="384.02" y2="531.5" stroke="#FFC000" stroke-width="0.8"/>
<rect x="376.1" y="530.51" width="11" height="0.99" fill="#FFF0C0" stroke="#FFC000" stroke-width="0.8"/>
<line x1="376.1" y1="531.01" x2="387.1" y2="531.01" stroke="#FFC000" stroke-width="0.8"/>
<circle cx="381.6" cy="526.08" r="0.9" fill="#FFC000" opacity="0.8"/>
<circle cx="381.6" cy="529.04" r="0.9" fill="#FFC000" opacity="0.8"/>
<circle cx="381.6" cy="530.51" r="0.9" fill="#FFC000" opacity="0.8"/>
<line x1="380" y1="529.31" x2="383.2" y2="532.51" stroke="#FFC000" stroke-width="0.8"/>
<line x1="380" y1="532.51" x2="383.2" y2="529.31" stroke="#FFC000" stroke-width="0.8"/>
<line x1="394.8" y1="446.79" x2="394.8" y2="458.61" stroke="#8C8C8C" stroke-width="0.8"/>
<line x1="394.8" y1="511.31" x2="394.8" y2="521.65" stroke="#8C8C8C" stroke-width="0.8"/>
<line x1="392.38" y1="446.79" x2="397.22" y2="446.79" stroke="#8C8C8C" stroke-width="0.8"/>
<line x1="392.38" y1="521.65" x2="397.22" y2="521.65" stroke="#8C8C8C" stroke-width="0.8"/>
<rect x="389.3" y="458.61" width="11" height="52.7" fill="#D9D9D9" stroke="#8C8C8C" stroke-width="0.8"/>
<line x1="389.3" y1="479.3" x2="400.3" y2="479.3" stroke="#8C8C8C" stroke-width="0.8"/>
<circle cx="394.8" cy="452.7" r="0.9" fill="#8C8C8C" opacity="0.8"/>
<circle cx="394.8" cy="465.5" r="0.9" fill="#8C8C8C" opacity="0.8"/>
<circle cx="394.8" cy="471.42" r="0.9" fill="#8C8C8C" opacity="0.8"/>
<circle cx="394.8" cy="476.34" r="0.9" fill="#8C8C8C" opacity="0.8"/>
<circle cx="394.8" cy="480.28" r="0.9" fill="#8C8C8C" opacity="0.8"/>
<circle cx="394.8" cy="487.18" r="0.9" fill="#8C8C8C" opacity="0.8"/>
<circle cx="394.8" cy="499" r="0.9" fill="#8C8C8C" opacity="0.8"/>
<circle cx="394.8" cy="510.81" r="0.9" fill="#8C8C8C" opacity="0.8"/>
<circle cx="394.8" cy="519.68" r="0.9" fill="#8C8C8C" opacity="0.8"/>
<line x1="393.2" y1="475.72" x2="396.4" y2="478.93" stroke="#8C8C8C" stroke-width="0.8"/>
<line x1="393.2" y1="478.93" x2="396.4" y2="475.72" stroke="#8C8C8C" stroke-width="0.8"/>
<line x1="407.8" y1="457.62" x2="407.8" y2="488.16" stroke="#ED7D31" stroke-width="0.8"/>
<line x1="407.8" y1="511.31" x2="407.8" y2="526.58" stroke="#ED7D31" stroke-width="0.8"/>
<line x1="405.38" y1="457.62" x2="410.22" y2="457.62" stroke="#ED7D31" stroke-width="0.8"/>
<line x1="405.38" y1="526.58" x2="410.22" y2="526.58" stroke="#ED7D31" stroke-width="0.8"/>
<rect x="402.3" y="488.16" width="11" height="23.15" fill="#FBE1D0" stroke="#ED7D31" stroke-width="0.8"/>
<line x1="402.3" y1="501.95" x2="413.3" y2="501.95" stroke="#ED7D31" stroke-width="0.8"/>
<circle cx="407.8" cy="491.12" r="0.9" fill="#ED7D31" opacity="0.8"/>
<circle cx="407.8" cy="494.07" r="0.9" fill="#ED7D31" opacity="0.8"/>
<circle cx="407.8" cy="502.94" r="0.9" fill="#ED7D31" opacity="0.8"/>
<circle cx="407.8" cy="510.81" r="0.9" fill="#ED7D31" opacity="0.8"/>
<circle cx="407.8" cy="521.65" r="0.9" fill="#ED7D31" opacity="0.8"/>
<line x1="406.2" y1="497.39" x2="409.4" y2="500.6" stroke="#ED7D31" stroke-width="0.8"/>
<line x1="406.2" y1="500.6" x2="409.4" y2="497.39" stroke="#ED7D31" stroke-width="0.8"/>
<line x1="420.8" y1="529.53" x2="420.8" y2="530.51" stroke="#4472C4" stroke-width="0.8"/>
<line x1="420.8" y1="531.5" x2="420.8" y2="531.5" stroke="#4472C4" stroke-width="0.8"/>
<line x1="418.38" y1="529.53" x2="423.22" y2="529.53" stroke="#4472C4" stroke-width="0.8"/>
<line x1="418.38" y1="531.5" x2="423.22" y2="531.5" stroke="#4472C4" stroke-width="0.8"/>
<rect x="415.3" y="530.51" width="11" height="0.99" fill="#C9D6EF" stroke="#4472C4" stroke-width="0.8"/>
<line x1="415.3" y1="531.01" x2="426.3" y2="531.01" stroke="#4472C4" stroke-width="0.8"/>
<circle cx="420.8" cy="526.08" r="0.9" fill="#4472C4" opacity="0.8"/>
<circle cx="420.8" cy="528.54" r="0.9" fill="#4472C4" opacity="0.8"/>
<line x1="419.2" y1="528.91" x2="422.4" y2="532.12" stroke="#4472C4" stroke-width="0.8"/>
<line x1="419.2" y1="532.12" x2="422.4" y2="528.91" stroke="#4472C4" stroke-width="0.8"/>
<rect x="461.2" y="468.2" width="3.6" height="3.6" fill="#FFF0C0" stroke="#FFC000" stroke-width="0.7"/>
<text x="467.6" y="472.77" font-size="7.7" text-anchor="start" fill="#2a2a2a" color="#2a2a2a">Te/exh</text>
<rect x="461.2" y="479" width="3.6" height="3.6" fill="#D9D9D9" stroke="#8C8C8C" stroke-width="0.7"/>
<text x="467.6" y="483.57" font-size="7.7" text-anchor="start" fill="#2a2a2a" color="#2a2a2a">Tem</text>
<rect x="461.2" y="490.4" width="3.6" height="3.6" fill="#FBE1D0" stroke="#ED7D31" stroke-width="0.7"/>
<text x="467.6" y="494.97" font-size="7.7" text-anchor="start" fill="#2a2a2a" color="#2a2a2a">Tcm</text>
<rect x="461.2" y="501.2" width="3.6" height="3.6" fill="#C9D6EF" stroke="#4472C4" stroke-width="0.7"/>
<text x="467.6" y="505.77" font-size="7.7" text-anchor="start" fill="#2a2a2a" color="#2a2a2a">Na&#239;ve</text>
<text transform="translate(32.8 568.74) scale(0.86 1)" font-size="10.4" text-anchor="start" fill="#111" color="#111" font-weight="bold">E</text>
<text x="91.2" y="575.37" font-size="7.7" text-anchor="start" fill="#2a2a2a" color="#2a2a2a">Subtype distribution among all CAR-T cells</text>
<line x1="66.3" y1="664.08" x2="262" y2="664.08" stroke="#ebebeb" stroke-width="0.8"/>
<line x1="66.3" y1="655.16" x2="262" y2="655.16" stroke="#ebebeb" stroke-width="0.8"/>
<line x1="66.3" y1="646.24" x2="262" y2="646.24" stroke="#ebebeb" stroke-width="0.8"/>
<line x1="66.3" y1="637.32" x2="262" y2="637.32" stroke="#ebebeb" stroke-width="0.8"/>
<line x1="66.3" y1="628.4" x2="262" y2="628.4" stroke="#ebebeb" stroke-width="0.8"/>
<line x1="66.3" y1="619.48" x2="262" y2="619.48" stroke="#ebebeb" stroke-width="0.8"/>
<line x1="66.3" y1="610.56" x2="262" y2="610.56" stroke="#ebebeb" stroke-width="0.8"/>
<line x1="66.3" y1="601.64" x2="262" y2="601.64" stroke="#ebebeb" stroke-width="0.8"/>
<line x1="66.3" y1="592.72" x2="262" y2="592.72" stroke="#ebebeb" stroke-width="0.8"/>
<line x1="66.3" y1="583.8" x2="262" y2="583.8" stroke="#ebebeb" stroke-width="0.8"/>
<line x1="66.3" y1="583.3" x2="66.3" y2="673" stroke="#999999" stroke-width="1.1"/>
<line x1="66.3" y1="673" x2="262" y2="673" stroke="#999999" stroke-width="1.1"/>
<line x1="64.3" y1="673" x2="66.3" y2="673" stroke="#999999" stroke-width="0.9"/>
<text x="62.8" y="675.63" font-size="7.3" text-anchor="end" fill="#2a2a2a" color="#2a2a2a">0</text>
<line x1="64.3" y1="664.08" x2="66.3" y2="664.08" stroke="#999999" stroke-width="0.9"/>
<text x="62.8" y="666.71" font-size="7.3" text-anchor="end" fill="#2a2a2a" color="#2a2a2a">10</text>
<line x1="64.3" y1="655.16" x2="66.3" y2="655.16" stroke="#999999" stroke-width="0.9"/>
<text x="62.8" y="657.79" font-size="7.3" text-anchor="end" fill="#2a2a2a" color="#2a2a2a">20</text>
<line x1="64.3" y1="646.24" x2="66.3" y2="646.24" stroke="#999999" stroke-width="0.9"/>
<text x="62.8" y="648.87" font-size="7.3" text-anchor="end" fill="#2a2a2a" color="#2a2a2a">30</text>
<line x1="64.3" y1="637.32" x2="66.3" y2="637.32" stroke="#999999" stroke-width="0.9"/>
<text x="62.8" y="639.95" font-size="7.3" text-anchor="end" fill="#2a2a2a" color="#2a2a2a">40</text>
<line x1="64.3" y1="628.4" x2="66.3" y2="628.4" stroke="#999999" stroke-width="0.9"/>
<text x="62.8" y="631.03" font-size="7.3" text-anchor="end" fill="#2a2a2a" color="#2a2a2a">50</text>
<line x1="64.3" y1="619.48" x2="66.3" y2="619.48" stroke="#999999" stroke-width="0.9"/>
<text x="62.8" y="622.11" font-size="7.3" text-anchor="end" fill="#2a2a2a" color="#2a2a2a">60</text>
<line x1="64.3" y1="610.56" x2="66.3" y2="610.56" stroke="#999999" stroke-width="0.9"/>
<text x="62.8" y="613.19" font-size="7.3" text-anchor="end" fill="#2a2a2a" color="#2a2a2a">70</text>
<line x1="64.3" y1="601.64" x2="66.3" y2="601.64" stroke="#999999" stroke-width="0.9"/>
<text x="62.8" y="604.27" font-size="7.3" text-anchor="end" fill="#2a2a2a" color="#2a2a2a">80</text>
<line x1="64.3" y1="592.72" x2="66.3" y2="592.72" stroke="#999999" stroke-width="0.9"/>
<text x="62.8" y="595.35" font-size="7.3" text-anchor="end" fill="#2a2a2a" color="#2a2a2a">90</text>
<line x1="64.3" y1="583.8" x2="66.3" y2="583.8" stroke="#999999" stroke-width="0.9"/>
<text x="62.8" y="586.43" font-size="7.3" text-anchor="end" fill="#2a2a2a" color="#2a2a2a">100</text>
<rect x="72.2" y="626.71" width="5.6" height="46.29" fill="#EC7C30"/>
<rect x="72.2" y="587.19" width="5.6" height="39.52" fill="#A2A2A2"/>
<rect x="72.2" y="586.65" width="5.6" height="0.54" fill="#A79C70"/>
<text x="75" y="653.06" font-size="7.3" text-anchor="middle" fill="#3a2a1a" color="#3a2a1a">51</text>
<line x1="83.9" y1="673" x2="83.9" y2="675.5" stroke="#999999" stroke-width="1"/>
<text x="75" y="683.13" font-size="7.3" text-anchor="middle" fill="#2a2a2a" color="#2a2a2a">001</text>
<line x1="69.2" y1="687" x2="81.2" y2="687" stroke="#C0222D" stroke-width="1.8"/>
<rect x="90.08" y="645.26" width="5.6" height="27.74" fill="#EC7C30"/>
<rect x="90.08" y="641.42" width="5.6" height="3.84" fill="#A0AABA"/>
<rect x="90.08" y="587.19" width="5.6" height="54.23" fill="#A2A2A2"/>
<rect x="90.08" y="586.57" width="5.6" height="0.62" fill="#A79C70"/>
<text x="92.88" y="661.36" font-size="7.3" text-anchor="middle" fill="#3a2a1a" color="#3a2a1a">31</text>
<line x1="101.78" y1="673" x2="101.78" y2="675.5" stroke="#999999" stroke-width="1"/>
<text x="92.88" y="683.13" font-size="7.3" text-anchor="middle" fill="#2a2a2a" color="#2a2a2a">002</text>
<rect x="107.95" y="624.83" width="5.6" height="48.17" fill="#EC7C30"/>
<rect x="107.95" y="587.19" width="5.6" height="37.64" fill="#A2A2A2"/>
<rect x="107.95" y="586.65" width="5.6" height="0.54" fill="#A79C70"/>
<text x="110.75" y="652.44" font-size="7.3" text-anchor="middle" fill="#3a2a1a" color="#3a2a1a">52</text>
<line x1="119.65" y1="673" x2="119.65" y2="675.5" stroke="#999999" stroke-width="1"/>
<text x="110.75" y="683.13" font-size="7.3" text-anchor="middle" fill="#2a2a2a" color="#2a2a2a">003</text>
<line x1="104.95" y1="687" x2="116.95" y2="687" stroke="#C0222D" stroke-width="1.8"/>
<rect x="125.83" y="645.26" width="5.6" height="27.74" fill="#EC7C30"/>
<rect x="125.83" y="642.67" width="5.6" height="2.59" fill="#A0AABA"/>
<rect x="125.83" y="594.15" width="5.6" height="48.52" fill="#A2A2A2"/>
<text x="128.62" y="661.62" font-size="7.3" text-anchor="middle" fill="#3a2a1a" color="#3a2a1a">31</text>
<line x1="137.53" y1="673" x2="137.53" y2="675.5" stroke="#999999" stroke-width="1"/>
<text x="128.62" y="683.13" font-size="7.3" text-anchor="middle" fill="#2a2a2a" color="#2a2a2a">004</text>
<rect x="143.7" y="655.61" width="5.6" height="17.39" fill="#EC7C30"/>
<rect x="143.7" y="594.5" width="5.6" height="61.1" fill="#A2A2A2"/>
<rect x="143.7" y="593.61" width="5.6" height="0.89" fill="#F2C230"/>
<text x="146.5" y="667.87" font-size="7.3" text-anchor="middle" fill="#3a2a1a" color="#3a2a1a">19</text>
<line x1="155.4" y1="673" x2="155.4" y2="675.5" stroke="#999999" stroke-width="1"/>
<text x="146.5" y="683.13" font-size="7.3" text-anchor="middle" fill="#2a2a2a" color="#2a2a2a">005</text>
<rect x="161.57" y="631.34" width="5.6" height="41.66" fill="#EC7C30"/>
<rect x="161.57" y="626.62" width="5.6" height="4.73" fill="#A0AABA"/>
<rect x="161.57" y="603.33" width="5.6" height="23.28" fill="#A2A2A2"/>
<rect x="161.57" y="601.28" width="5.6" height="2.05" fill="#F2C230"/>
<text x="164.38" y="654.58" font-size="7.3" text-anchor="middle" fill="#3a2a1a" color="#3a2a1a">44</text>
<line x1="173.28" y1="673" x2="173.28" y2="675.5" stroke="#999999" stroke-width="1"/>
<text x="164.38" y="683.13" font-size="7.3" text-anchor="middle" fill="#2a2a2a" color="#2a2a2a">007</text>
<rect x="179.45" y="666.93" width="5.6" height="6.07" fill="#EC7C30"/>
<rect x="179.45" y="585.23" width="5.6" height="81.71" fill="#A2A2A2"/>
<text x="182.25" y="673.04" font-size="7.3" text-anchor="middle" fill="#3a2a1a" color="#3a2a1a">5</text>
<line x1="191.15" y1="673" x2="191.15" y2="675.5" stroke="#999999" stroke-width="1"/>
<text x="182.25" y="683.13" font-size="7.3" text-anchor="middle" fill="#2a2a2a" color="#2a2a2a">009</text>
<rect x="197.32" y="636.07" width="5.6" height="36.93" fill="#EC7C30"/>
<rect x="197.32" y="634.02" width="5.6" height="2.05" fill="#A0AABA"/>
<rect x="197.32" y="601.91" width="5.6" height="32.11" fill="#A2A2A2"/>
<text x="200.12" y="657.07" font-size="7.3" text-anchor="middle" fill="#3a2a1a" color="#3a2a1a">41</text>
<line x1="209.03" y1="673" x2="209.03" y2="675.5" stroke="#999999" stroke-width="1"/>
<text x="200.12" y="683.13" font-size="7.3" text-anchor="middle" fill="#2a2a2a" color="#2a2a2a">010</text>
<line x1="194.32" y1="687" x2="206.32" y2="687" stroke="#C0222D" stroke-width="1.8"/>
<rect x="215.2" y="600.57" width="5.6" height="72.43" fill="#EC7C30"/>
<rect x="215.2" y="597.18" width="5.6" height="3.39" fill="#A2A2A2"/>
<text x="218" y="639.15" font-size="7.3" text-anchor="middle" fill="#3a2a1a" color="#3a2a1a">80</text>
<line x1="226.9" y1="673" x2="226.9" y2="675.5" stroke="#999999" stroke-width="1"/>
<text x="218" y="683.13" font-size="7.3" text-anchor="middle" fill="#2a2a2a" color="#2a2a2a">014</text>
<rect x="233.07" y="662.12" width="5.6" height="10.88" fill="#3F6CBF"/>
<rect x="233.07" y="638.39" width="5.6" height="23.73" fill="#EC7C30"/>
<rect x="233.07" y="625.01" width="5.6" height="13.38" fill="#A2A2A2"/>
<rect x="233.07" y="618.5" width="5.6" height="6.51" fill="#F2C230"/>
<text x="235.88" y="652.97" font-size="7.3" text-anchor="middle" fill="#3a2a1a" color="#3a2a1a">26</text>
<line x1="244.78" y1="673" x2="244.78" y2="675.5" stroke="#999999" stroke-width="1"/>
<text x="235.88" y="683.13" font-size="7.3" text-anchor="middle" fill="#2a2a2a" color="#2a2a2a">016</text>
<rect x="250.95" y="669.52" width="5.6" height="3.48" fill="#3F6CBF"/>
<rect x="250.95" y="625.99" width="5.6" height="43.53" fill="#EC7C30"/>
<rect x="250.95" y="615.82" width="5.6" height="10.17" fill="#A2A2A2"/>
<rect x="250.95" y="614.22" width="5.6" height="1.61" fill="#F2C230"/>
<text x="253.75" y="650.21" font-size="7.3" text-anchor="middle" fill="#3a2a1a" color="#3a2a1a">49</text>
<line x1="262.65" y1="673" x2="262.65" y2="675.5" stroke="#999999" stroke-width="1"/>
<text x="253.75" y="683.13" font-size="7.3" text-anchor="middle" fill="#2a2a2a" color="#2a2a2a">017</text>
<line x1="247.95" y1="687" x2="259.95" y2="687" stroke="#C0222D" stroke-width="1.8"/>
<text x="164.2" y="692.77" font-size="7.7" text-anchor="middle" fill="#2a2a2a" color="#2a2a2a">Patient ID</text>
<text x="45" y="630.27" font-size="7.7" text-anchor="middle" fill="#2a2a2a" color="#2a2a2a" transform="rotate(-90 45 627.5)">% of CD3<tspan dy="-2.93" font-size="4.77">+</tspan><tspan dy="2.93">EGFRt<tspan dy="-2.93" font-size="4.77">+</tspan><tspan dy="2.93"></tspan></tspan></text>
<rect x="271.3" y="615.2" width="3.6" height="3.6" fill="#FFC000"/>
<text x="277" y="619.77" font-size="7.7" text-anchor="start" fill="#2a2a2a" color="#2a2a2a">Te/exh</text>
<rect x="271.3" y="625.2" width="3.6" height="3.6" fill="#A5A5A5"/>
<text x="277" y="629.77" font-size="7.7" text-anchor="start" fill="#2a2a2a" color="#2a2a2a">Tem</text>
<rect x="271.3" y="635.7" width="3.6" height="3.6" fill="#ED7D31"/>
<text x="277" y="640.27" font-size="7.7" text-anchor="start" fill="#2a2a2a" color="#2a2a2a">Tcm</text>
<rect x="271.3" y="645.7" width="3.6" height="3.6" fill="#4472C4"/>
<text x="277" y="650.27" font-size="7.7" text-anchor="start" fill="#2a2a2a" color="#2a2a2a">Na&#239;ve</text>
<line x1="350.5" y1="665.25" x2="452" y2="665.25" stroke="#ebebeb" stroke-width="0.8"/>
<line x1="350.5" y1="655.5" x2="452" y2="655.5" stroke="#ebebeb" stroke-width="0.8"/>
<line x1="350.5" y1="645.75" x2="452" y2="645.75" stroke="#ebebeb" stroke-width="0.8"/>
<line x1="350.5" y1="636" x2="452" y2="636" stroke="#ebebeb" stroke-width="0.8"/>
<line x1="350.5" y1="626.25" x2="452" y2="626.25" stroke="#ebebeb" stroke-width="0.8"/>
<line x1="350.5" y1="616.5" x2="452" y2="616.5" stroke="#ebebeb" stroke-width="0.8"/>
<line x1="350.5" y1="606.75" x2="452" y2="606.75" stroke="#ebebeb" stroke-width="0.8"/>
<line x1="350.5" y1="597" x2="452" y2="597" stroke="#ebebeb" stroke-width="0.8"/>
<line x1="350.5" y1="587.25" x2="452" y2="587.25" stroke="#ebebeb" stroke-width="0.8"/>
<line x1="350.5" y1="577.5" x2="452" y2="577.5" stroke="#ebebeb" stroke-width="0.8"/>
<line x1="350.5" y1="577" x2="350.5" y2="675" stroke="#999999" stroke-width="1.1"/>
<line x1="350.5" y1="675" x2="452" y2="675" stroke="#999999" stroke-width="1.1"/>
<line x1="348.5" y1="675" x2="350.5" y2="675" stroke="#999999" stroke-width="0.9"/>
<text x="346.9" y="677.63" font-size="7.3" text-anchor="end" fill="#2a2a2a" color="#2a2a2a">0</text>
<line x1="348.5" y1="665.25" x2="350.5" y2="665.25" stroke="#999999" stroke-width="0.9"/>
<text x="346.9" y="667.88" font-size="7.3" text-anchor="end" fill="#2a2a2a" color="#2a2a2a">10</text>
<line x1="348.5" y1="655.5" x2="350.5" y2="655.5" stroke="#999999" stroke-width="0.9"/>
<text x="346.9" y="658.13" font-size="7.3" text-anchor="end" fill="#2a2a2a" color="#2a2a2a">20</text>
<line x1="348.5" y1="645.75" x2="350.5" y2="645.75" stroke="#999999" stroke-width="0.9"/>
<text x="346.9" y="648.38" font-size="7.3" text-anchor="end" fill="#2a2a2a" color="#2a2a2a">30</text>
<line x1="348.5" y1="636" x2="350.5" y2="636" stroke="#999999" stroke-width="0.9"/>
<text x="346.9" y="638.63" font-size="7.3" text-anchor="end" fill="#2a2a2a" color="#2a2a2a">40</text>
<line x1="348.5" y1="626.25" x2="350.5" y2="626.25" stroke="#999999" stroke-width="0.9"/>
<text x="346.9" y="628.88" font-size="7.3" text-anchor="end" fill="#2a2a2a" color="#2a2a2a">50</text>
<line x1="348.5" y1="616.5" x2="350.5" y2="616.5" stroke="#999999" stroke-width="0.9"/>
<text x="346.9" y="619.13" font-size="7.3" text-anchor="end" fill="#2a2a2a" color="#2a2a2a">60</text>
<line x1="348.5" y1="606.75" x2="350.5" y2="606.75" stroke="#999999" stroke-width="0.9"/>
<text x="346.9" y="609.38" font-size="7.3" text-anchor="end" fill="#2a2a2a" color="#2a2a2a">70</text>
<line x1="348.5" y1="597" x2="350.5" y2="597" stroke="#999999" stroke-width="0.9"/>
<text x="346.9" y="599.63" font-size="7.3" text-anchor="end" fill="#2a2a2a" color="#2a2a2a">80</text>
<line x1="348.5" y1="587.25" x2="350.5" y2="587.25" stroke="#999999" stroke-width="0.9"/>
<text x="346.9" y="589.88" font-size="7.3" text-anchor="end" fill="#2a2a2a" color="#2a2a2a">90</text>
<line x1="348.5" y1="577.5" x2="350.5" y2="577.5" stroke="#999999" stroke-width="0.9"/>
<text x="346.9" y="580.13" font-size="7.3" text-anchor="end" fill="#2a2a2a" color="#2a2a2a">100</text>
<text x="330" y="630.27" font-size="7.7" text-anchor="middle" fill="#2a2a2a" color="#2a2a2a" transform="rotate(-90 330 627.5)">% of CD3<tspan dy="-2.93" font-size="4.77">+</tspan><tspan dy="2.93">EGFRt<tspan dy="-2.93" font-size="4.77">+</tspan><tspan dy="2.93"></tspan></tspan></text>
<line x1="380.8" y1="672.08" x2="380.8" y2="673.63" stroke="#FFC000" stroke-width="0.8"/>
<line x1="380.8" y1="675" x2="380.8" y2="675" stroke="#FFC000" stroke-width="0.8"/>
<line x1="378.38" y1="672.08" x2="383.22" y2="672.08" stroke="#FFC000" stroke-width="0.8"/>
<line x1="378.38" y1="675" x2="383.22" y2="675" stroke="#FFC000" stroke-width="0.8"/>
<rect x="375.3" y="673.63" width="11" height="1.37" fill="#FFF0C0" stroke="#FFC000" stroke-width="0.8"/>
<line x1="375.3" y1="674.41" x2="386.3" y2="674.41" stroke="#FFC000" stroke-width="0.8"/>
<circle cx="380.8" cy="668.17" r="0.9" fill="#FFC000" opacity="0.8"/>
<circle cx="380.8" cy="673.05" r="0.9" fill="#FFC000" opacity="0.8"/>
<line x1="379.2" y1="672.42" x2="382.4" y2="675.62" stroke="#FFC000" stroke-width="0.8"/>
<line x1="379.2" y1="675.62" x2="382.4" y2="672.42" stroke="#FFC000" stroke-width="0.8"/>
<line x1="394.6" y1="584.33" x2="394.6" y2="611.62" stroke="#8C8C8C" stroke-width="0.8"/>
<line x1="394.6" y1="660.38" x2="394.6" y2="671.1" stroke="#8C8C8C" stroke-width="0.8"/>
<line x1="392.03" y1="584.33" x2="397.17" y2="584.33" stroke="#8C8C8C" stroke-width="0.8"/>
<line x1="392.03" y1="671.1" x2="397.17" y2="671.1" stroke="#8C8C8C" stroke-width="0.8"/>
<rect x="388.75" y="611.62" width="11.7" height="48.75" fill="#D9D9D9" stroke="#8C8C8C" stroke-width="0.8"/>
<line x1="388.75" y1="632.1" x2="400.45" y2="632.1" stroke="#8C8C8C" stroke-width="0.8"/>
<circle cx="394.6" cy="608.7" r="0.9" fill="#8C8C8C" opacity="0.8"/>
<circle cx="394.6" cy="620.4" r="0.9" fill="#8C8C8C" opacity="0.8"/>
<circle cx="394.6" cy="637.95" r="0.9" fill="#8C8C8C" opacity="0.8"/>
<circle cx="394.6" cy="642.83" r="0.9" fill="#8C8C8C" opacity="0.8"/>
<circle cx="394.6" cy="663.3" r="0.9" fill="#8C8C8C" opacity="0.8"/>
<line x1="393" y1="631.48" x2="396.2" y2="634.68" stroke="#8C8C8C" stroke-width="0.8"/>
<line x1="393" y1="634.68" x2="396.2" y2="631.48" stroke="#8C8C8C" stroke-width="0.8"/>
<line x1="407.5" y1="596.51" x2="407.5" y2="624.79" stroke="#ED7D31" stroke-width="0.8"/>
<line x1="407.5" y1="649.16" x2="407.5" y2="669.15" stroke="#ED7D31" stroke-width="0.8"/>
<line x1="404.75" y1="596.51" x2="410.25" y2="596.51" stroke="#ED7D31" stroke-width="0.8"/>
<line x1="404.75" y1="669.15" x2="410.25" y2="669.15" stroke="#ED7D31" stroke-width="0.8"/>
<rect x="401.25" y="624.79" width="12.5" height="24.38" fill="#FBE1D0" stroke="#ED7D31" stroke-width="0.8"/>
<line x1="401.25" y1="635.02" x2="413.75" y2="635.02" stroke="#ED7D31" stroke-width="0.8"/>
<circle cx="407.5" cy="626.25" r="0.9" fill="#ED7D31" opacity="0.8"/>
<circle cx="407.5" cy="630.15" r="0.9" fill="#ED7D31" opacity="0.8"/>
<circle cx="407.5" cy="642.83" r="0.9" fill="#ED7D31" opacity="0.8"/>
<circle cx="407.5" cy="655.5" r="0.9" fill="#ED7D31" opacity="0.8"/>
<line x1="405.9" y1="634.4" x2="409.1" y2="637.6" stroke="#ED7D31" stroke-width="0.8"/>
<line x1="405.9" y1="637.6" x2="409.1" y2="634.4" stroke="#ED7D31" stroke-width="0.8"/>
<line x1="420.5" y1="672.08" x2="420.5" y2="673.54" stroke="#4472C4" stroke-width="0.8"/>
<line x1="420.5" y1="675" x2="420.5" y2="675" stroke="#4472C4" stroke-width="0.8"/>
<line x1="417.97" y1="672.08" x2="423.03" y2="672.08" stroke="#4472C4" stroke-width="0.8"/>
<line x1="417.97" y1="675" x2="423.03" y2="675" stroke="#4472C4" stroke-width="0.8"/>
<rect x="414.75" y="673.54" width="11.5" height="1.46" fill="#C9D6EF" stroke="#4472C4" stroke-width="0.8"/>
<line x1="414.75" y1="674.51" x2="426.25" y2="674.51" stroke="#4472C4" stroke-width="0.8"/>
<circle cx="420.5" cy="662.33" r="0.9" fill="#4472C4" opacity="0.8"/>
<circle cx="420.5" cy="671.1" r="0.9" fill="#4472C4" opacity="0.8"/>
<line x1="418.9" y1="672.23" x2="422.1" y2="675.43" stroke="#4472C4" stroke-width="0.8"/>
<line x1="418.9" y1="675.43" x2="422.1" y2="672.23" stroke="#4472C4" stroke-width="0.8"/>
<rect x="461.2" y="611.6" width="3.6" height="3.6" fill="#FFF0C0" stroke="#FFC000" stroke-width="0.7"/>
<text x="467.6" y="616.17" font-size="7.7" text-anchor="start" fill="#2a2a2a" color="#2a2a2a">Te/exh</text>
<rect x="461.2" y="622.2" width="3.6" height="3.6" fill="#D9D9D9" stroke="#8C8C8C" stroke-width="0.7"/>
<text x="467.6" y="626.77" font-size="7.7" text-anchor="start" fill="#2a2a2a" color="#2a2a2a">Tem</text>
<rect x="461.2" y="633.5" width="3.6" height="3.6" fill="#FBE1D0" stroke="#ED7D31" stroke-width="0.7"/>
<text x="467.6" y="638.07" font-size="7.7" text-anchor="start" fill="#2a2a2a" color="#2a2a2a">Tcm</text>
<rect x="461.2" y="644.6" width="3.6" height="3.6" fill="#C9D6EF" stroke="#4472C4" stroke-width="0.7"/>
<text x="467.6" y="649.17" font-size="7.7" text-anchor="start" fill="#2a2a2a" color="#2a2a2a">Na&#239;ve</text>
</svg>
</body></html>
